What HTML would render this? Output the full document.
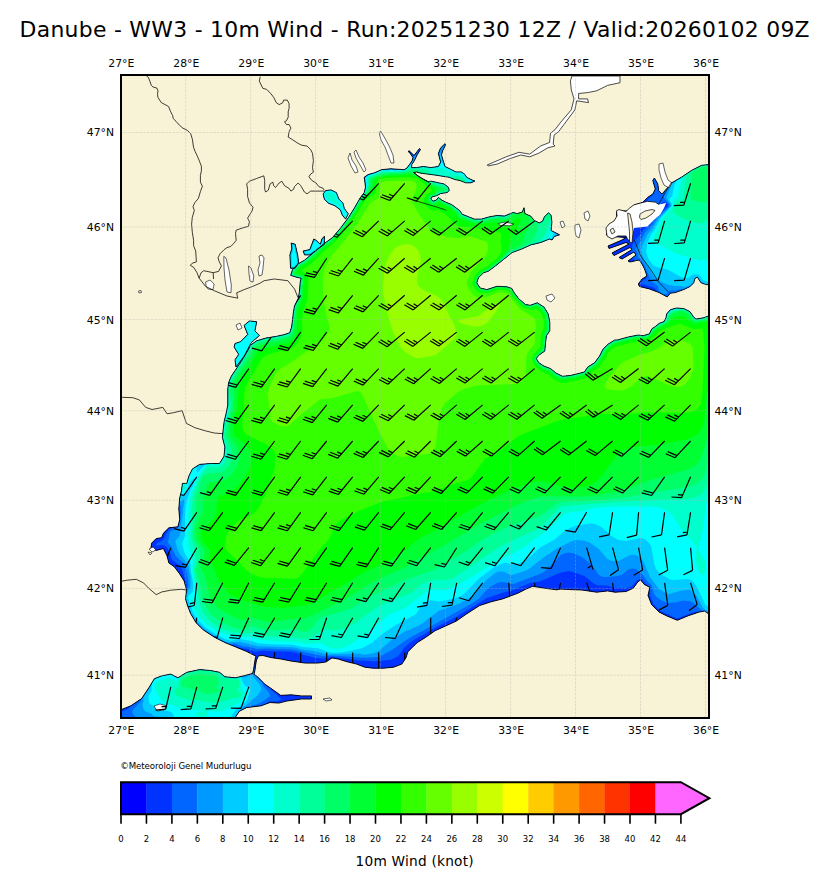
<!DOCTYPE html><html><head><meta charset="utf-8"><style>html,body{margin:0;padding:0;background:#fff;width:829px;height:888px;overflow:hidden}svg{display:block}text{font-family:'DejaVu Sans','Liberation Sans',sans-serif}</style></head><body>
<svg width="829" height="888" viewBox="0 0 829 888">
<text x="19.6" y="36.8" font-size="21.9" textLength="790" lengthAdjust="spacing" fill="#000">Danube - WW3 - 10m Wind - Run:20251230 12Z / Valid:20260102 09Z</text>
<text x="121.3" y="66.9" font-size="10.8" text-anchor="middle">27°E</text>
<text x="121.3" y="734.1" font-size="10.8" text-anchor="middle">27°E</text>
<text x="186.3" y="66.9" font-size="10.8" text-anchor="middle">28°E</text>
<text x="186.3" y="734.1" font-size="10.8" text-anchor="middle">28°E</text>
<text x="251.3" y="66.9" font-size="10.8" text-anchor="middle">29°E</text>
<text x="251.3" y="734.1" font-size="10.8" text-anchor="middle">29°E</text>
<text x="316.2" y="66.9" font-size="10.8" text-anchor="middle">30°E</text>
<text x="316.2" y="734.1" font-size="10.8" text-anchor="middle">30°E</text>
<text x="381.2" y="66.9" font-size="10.8" text-anchor="middle">31°E</text>
<text x="381.2" y="734.1" font-size="10.8" text-anchor="middle">31°E</text>
<text x="446.2" y="66.9" font-size="10.8" text-anchor="middle">32°E</text>
<text x="446.2" y="734.1" font-size="10.8" text-anchor="middle">32°E</text>
<text x="511.2" y="66.9" font-size="10.8" text-anchor="middle">33°E</text>
<text x="511.2" y="734.1" font-size="10.8" text-anchor="middle">33°E</text>
<text x="576.1" y="66.9" font-size="10.8" text-anchor="middle">34°E</text>
<text x="576.1" y="734.1" font-size="10.8" text-anchor="middle">34°E</text>
<text x="641.1" y="66.9" font-size="10.8" text-anchor="middle">35°E</text>
<text x="641.1" y="734.1" font-size="10.8" text-anchor="middle">35°E</text>
<text x="706.1" y="66.9" font-size="10.8" text-anchor="middle">36°E</text>
<text x="706.1" y="734.1" font-size="10.8" text-anchor="middle">36°E</text>
<text x="114.0" y="679.1" font-size="10.8" text-anchor="end">41°N</text>
<text x="714.5" y="679.1" font-size="10.8">41°N</text>
<text x="114.0" y="592.3" font-size="10.8" text-anchor="end">42°N</text>
<text x="714.5" y="592.3" font-size="10.8">42°N</text>
<text x="114.0" y="504.2" font-size="10.8" text-anchor="end">43°N</text>
<text x="714.5" y="504.2" font-size="10.8">43°N</text>
<text x="114.0" y="414.6" font-size="10.8" text-anchor="end">44°N</text>
<text x="714.5" y="414.6" font-size="10.8">44°N</text>
<text x="114.0" y="323.5" font-size="10.8" text-anchor="end">45°N</text>
<text x="714.5" y="323.5" font-size="10.8">45°N</text>
<text x="114.0" y="230.8" font-size="10.8" text-anchor="end">46°N</text>
<text x="714.5" y="230.8" font-size="10.8">46°N</text>
<text x="114.0" y="136.4" font-size="10.8" text-anchor="end">47°N</text>
<text x="714.5" y="136.4" font-size="10.8">47°N</text>
<defs><clipPath id="mc"><rect x="121" y="75" width="588" height="643"/></clipPath>
<clipPath id="sc"><polygon points="291.6,327.0 292.6,319.4 293.5,311.7 294.5,306.0 296.4,302.1 298.3,298.3 299.3,292.6 299.8,287.8 300.2,282.0 301.2,278.2 296.4,277.2 290.7,275.3 292.6,269.6 298.3,263.8 304.5,260.2 312.5,253.6 323.1,244.3 332.4,237.7 340.3,228.4 348.3,217.8 354.9,207.2 360.2,197.9 364.2,192.6 365.5,187.3 364.9,181.9 364.2,177.3 368.2,174.6 374.8,172.7 381.4,169.7 390.7,168.8 404.2,169.7 407.0,168.0 409.5,164.5 412.0,161.0 413.0,157.5 409.5,152.5 408.0,151.5 409.2,150.8 414.0,155.5 416.0,153.0 419.5,148.5 420.5,149.5 417.0,155.0 414.5,160.5 411.8,164.5 411.5,167.6 416.7,167.6 423.2,166.5 430.8,167.6 438.4,166.5 440.6,162.1 438.4,153.5 440.6,148.0 445.0,143.7 445.5,145.0 442.5,151.0 441.5,155.0 443.3,161.1 445.0,166.5 451.5,169.7 455.8,171.9 461.2,171.9 464.5,174.1 466.7,177.3 471.0,179.5 474.8,181.1 471.0,182.8 465.6,182.8 460.1,180.6 454.7,179.5 449.3,177.3 442.8,176.3 436.3,175.2 427.6,174.1 420.0,173.0 416.7,172.0 413.5,172.5 418.0,176.0 424.0,179.5 429.0,182.0 430.8,181.1 438.4,182.8 443.9,183.9 448.2,187.1 449.3,190.4 447.1,192.5 440.6,193.6 436.3,195.8 431.9,196.9 430.8,199.0 433.0,201.2 436.3,200.1 438.4,197.4 441.7,200.1 446.0,202.3 451.5,204.5 459.8,210.7 462.2,214.3 468.3,216.7 474.3,219.1 481.5,219.1 490.0,216.7 497.2,215.5 504.4,216.1 511.7,213.1 512.9,212.5 517.3,213.6 522.4,212.0 524.0,207.7 524.9,213.6 530.8,216.2 534.2,220.4 539.2,222.9 542.6,221.2 544.3,217.0 548.5,212.8 551.1,215.3 551.9,222.1 551.1,230.5 559.5,234.8 554.4,236.4 552.0,240.0 549.4,239.0 540.9,242.4 530.8,244.9 521.5,249.1 512.2,252.5 503.8,259.2 495.3,266.0 488.6,271.1 483.5,272.8 478.4,277.8 476.8,282.9 480.1,288.0 486.9,289.6 497.0,286.3 506.8,286.8 511.8,288.4 513.5,291.8 518.6,298.6 525.3,304.5 530.4,305.3 537.2,302.8 543.9,307.0 548.1,313.8 549.8,322.2 549.8,330.7 546.4,335.7 545.6,342.5 544.8,350.9 538.8,355.2 536.3,358.5 538.8,362.8 543.9,366.1 550.7,368.7 555.7,372.9 562.5,376.3 570.9,375.4 577.7,373.7 584.4,372.0 587.8,367.0 594.6,362.8 599.6,356.0 603.0,349.2 608.1,344.2 614.8,340.0 617.4,340.0 628.5,336.9 638.3,335.1 643.2,335.7 649.4,333.8 651.8,328.9 655.5,326.4 659.2,323.4 664.1,321.5 666.0,317.8 666.6,314.1 670.3,309.8 676.4,308.0 683.8,308.6 690.0,311.7 693.7,317.2 696.1,319.1 703.5,317.8 708.4,316.0 712.0,316.0 712.0,614.0 708.5,613.8 704.8,611.1 699.3,612.0 688.3,615.7 677.3,620.3 666.3,615.7 659.0,612.0 651.7,604.7 648.0,595.5 649.8,587.3 644.3,584.5 640.7,579.9 637.9,581.8 633.3,588.2 626.0,591.5 615.0,592.2 607.7,590.9 596.7,592.2 582.0,590.0 571.0,589.6 560.0,589.1 556.7,589.8 545.1,588.3 532.6,586.3 525.8,589.2 518.1,593.1 510.4,596.0 502.6,598.9 491.1,601.8 479.5,605.6 466.0,614.3 456.3,621.1 445.7,625.9 435.1,630.7 425.4,637.5 417.7,642.3 414.1,645.6 407.9,651.8 405.9,657.9 401.8,664.1 393.6,667.2 383.3,668.2 373.1,668.2 364.8,667.2 356.6,664.1 346.4,661.6 338.2,659.0 332.0,657.9 325.9,662.0 317.7,663.1 305.4,663.1 291.0,661.0 280.8,659.0 270.5,657.5 262.9,655.5 258.5,655.8 256.5,660.0 255.6,665.0 255.0,670.0 254.0,674.3 257.5,676.8 264.7,684.1 270.0,687.7 280.8,695.4 291.0,694.8 301.3,695.9 311.5,695.9 311.5,699.0 301.3,699.0 286.9,701.0 278.7,703.1 270.0,702.5 261.1,705.8 246.7,707.6 239.4,711.2 235.8,716.6 237.0,720.0 118.0,720.0 118.0,709.6 121.8,709.4 130.9,705.8 141.7,698.6 148.9,687.7 154.4,678.7 161.6,675.9 170.7,674.1 177.9,677.8 186.9,672.3 199.6,669.6 210.5,670.5 219.5,672.3 224.9,676.8 235.8,677.8 246.7,675.0 252.5,673.5 253.6,669.6 254.4,664.0 255.2,659.0 256.0,656.2 246.7,651.5 235.8,647.0 224.9,642.5 214.1,637.0 203.2,629.8 196.0,622.6 190.6,613.5 187.8,606.3 185.5,599.0 186.5,590.2 184.2,581.1 179.7,573.9 174.3,566.7 168.9,563.0 167.0,555.8 163.4,548.6 156.2,550.4 150.8,548.6 151.7,543.1 156.2,538.6 161.6,537.7 163.4,533.2 168.9,527.8 177.9,526.8 179.7,519.6 178.8,508.8 179.7,497.9 181.5,490.7 182.4,483.4 186.9,483.4 188.8,476.2 192.4,469.0 199.6,464.4 210.5,463.5 219.5,463.5 224.0,456.3 224.9,447.2 223.1,440.0 222.4,437.6 223.3,428.6 224.2,421.3 226.0,414.1 227.8,405.0 227.8,396.0 227.8,388.8 228.7,382.4 231.4,376.1 235.0,370.7 238.7,365.2 242.3,359.8 247.7,350.8 250.4,345.3 256.7,340.8 265.8,338.1 276.7,336.3 283.9,334.7 289.7,332.8"/><polygon points="712.0,164.3 701.7,165.3 691.6,170.4 681.5,177.2 671.3,183.1 668.0,187.3 662.0,194.0 658.7,190.7 657.8,183.9 654.4,178.0 652.8,180.5 655.3,189.0 652.8,194.0 647.7,197.4 642.6,202.5 634.2,205.0 629.1,210.9 620.7,210.9 616.4,212.6 617.3,220.2 610.5,227.8 606.3,234.6 612.0,236.5 626.0,237.5 622.0,240.0 608.0,246.0 609.0,248.5 626.0,242.5 629.0,244.0 612.0,253.0 614.0,255.5 630.0,247.5 632.0,249.5 619.0,257.5 622.0,259.0 634.0,252.0 636.0,255.0 628.0,261.0 630.0,262.0 639.2,259.9 642.0,264.0 644.3,268.4 645.7,272.3 646.9,276.0 642.0,279.1 638.3,284.0 639.5,286.5 649.4,288.9 659.2,292.6 667.2,296.9 670.3,293.2 675.2,292.6 683.8,289.5 690.0,286.5 693.7,282.8 694.9,278.5 697.4,277.2 701.1,282.8 706.0,284.6 712.0,284.6"/><polygon points="235.0,343.5 240.5,341.7 247.7,334.5 244.1,325.4 249.5,320.9 256.7,321.8 254.9,330.9 259.5,335.4 251.3,342.6 244.1,356.2 236.0,367.0 235.0,359.8 238.7,354.4 234.1,347.1"/><polygon points="291.2,243.0 295.2,244.3 297.9,256.3 298.5,262.9 295.2,268.2 290.6,268.2 289.9,254.9 291.9,248.3"/><polygon points="303.2,251.0 309.8,249.6 313.8,239.0 316.4,240.3 320.4,244.3 321.8,239.0 324.4,236.3 324.4,244.3 309.8,254.9 304.5,254.9"/><polygon points="323.1,193.9 325.7,190.6 331.0,189.9 336.3,192.6 339.0,199.2 343.0,203.2 344.3,208.5 348.3,213.8 345.6,219.1 342.3,215.1 340.3,209.8 335.0,205.8 328.4,203.2 324.4,199.2"/></clipPath></defs>
<g clip-path="url(#mc)">
<rect x="121" y="75" width="588" height="643" fill="#f8f3d6"/>
<g clip-path="url(#sc)"><rect x="118" y="72" width="596" height="650" fill="#0000ff"/>
<path fill="#0033ff" fill-rule="evenodd" d="M118.0,72.0 714.0,72.0 714.0,722.0 118.0,722.0 118.0,72.0Z"/>
<path fill="#0066ff" fill-rule="evenodd" d="M118.0,72.0 342.4,72.0 343.6,76.0 370.0,123.7 382.4,152.0 383.6,154.0 388.0,158.2 390.5,162.0 390.9,165.0 388.3,168.0 393.0,168.4 394.0,169.3 399.1,169.0 402.0,167.0 411.8,157.0 409.5,152.0 413.0,154.1 413.7,154.0 418.0,149.6 422.6,146.0 424.1,144.0 418.0,72.0 474.1,72.0 474.2,142.0 475.4,144.0 479.0,145.6 480.0,147.6 480.5,165.0 485.8,178.0 485.6,180.0 483.0,183.2 482.5,185.0 484.5,187.0 488.0,187.7 491.0,187.0 492.3,183.0 493.0,182.5 500.0,182.0 502.6,181.0 502.3,179.0 498.0,175.4 497.3,173.0 501.1,167.0 506.0,153.1 510.9,135.0 512.4,122.0 517.7,110.0 517.9,72.0 714.0,72.0 714.0,467.0 713.0,467.2 711.7,540.0 712.5,554.0 713.0,556.5 714.0,556.6 714.0,722.0 701.5,722.0 701.4,612.0 700.0,611.3 699.0,611.9 697.0,611.5 694.0,612.2 682.0,616.4 679.0,618.1 677.0,618.3 673.0,617.1 668.0,614.1 666.0,613.7 660.0,610.6 653.3,604.0 650.3,596.0 650.0,587.0 645.0,583.3 642.0,579.3 641.0,579.0 637.0,580.2 632.0,586.3 625.0,588.4 619.0,587.8 616.0,588.3 608.0,585.8 597.0,585.3 593.0,583.0 584.4,576.0 573.0,571.9 569.0,571.1 560.0,572.8 540.0,581.6 530.0,583.1 511.0,591.0 506.0,591.8 487.0,597.9 454.2,618.0 434.0,628.3 414.0,639.8 408.2,644.0 404.0,648.0 399.7,654.0 396.8,657.0 391.0,659.7 375.0,661.3 359.0,660.4 332.0,656.8 323.0,658.7 314.0,657.5 292.0,651.7 272.0,651.3 264.0,650.6 259.0,651.0 256.0,651.9 248.0,649.1 242.0,648.3 233.0,645.0 231.0,645.5 230.0,645.0 226.0,657.0 219.3,672.0 220.0,672.1 224.0,676.2 227.0,676.2 228.0,677.2 238.0,677.2 239.0,676.2 242.0,676.3 243.0,675.3 246.0,675.4 247.0,674.4 250.0,674.4 251.0,673.4 252.0,673.4 253.4,671.0 253.4,669.0 255.0,668.4 255.6,670.0 254.6,671.0 254.6,675.0 256.0,675.4 265.0,684.8 266.0,684.9 269.0,688.0 270.0,688.0 271.2,690.0 276.0,693.7 278.0,696.4 281.7,699.0 281.0,699.6 278.0,700.9 269.0,701.5 265.0,704.1 264.0,704.2 263.0,705.3 260.0,705.3 259.0,706.4 252.0,706.4 251.0,707.5 246.0,707.5 241.0,710.7 240.0,710.7 238.7,712.0 238.7,713.0 235.7,717.0 237.7,720.0 237.0,720.7 199.0,720.8 197.4,721.0 197.3,722.0 118.0,722.0 118.0,720.3 135.2,720.0 132.0,718.9 118.0,718.9 118.0,711.1 123.0,710.8 126.0,709.8 130.3,707.0 128.0,706.8 125.0,708.7 123.0,708.7 122.0,709.7 118.0,709.7 118.0,620.1 149.0,604.0 186.0,589.4 187.0,585.0 185.8,580.0 184.6,578.0 182.6,571.0 180.2,566.0 172.3,560.0 170.9,557.0 170.7,555.0 167.0,547.6 164.0,545.1 161.0,544.7 157.0,545.5 155.6,545.0 158.0,542.5 160.0,542.2 163.0,540.0 164.5,538.0 166.0,533.7 169.5,529.0 176.0,527.0 176.0,524.0 178.2,518.0 178.8,514.0 178.0,513.6 175.0,514.7 172.0,513.1 156.0,494.0 149.4,487.0 122.0,469.4 118.0,467.7 118.0,72.0ZM303.0,115.2 304.0,118.0 309.0,125.0 353.0,184.3 354.0,185.1 356.0,185.2 364.0,180.7 364.5,176.0 364.0,175.5 312.0,123.5 303.0,115.2ZM388.0,168.3 387.0,169.0 388.0,169.1 388.0,168.3ZM570.0,230.9 567.0,233.0 562.5,238.0 560.8,245.0 559.0,247.7 548.6,253.0 543.7,258.0 543.1,260.0 543.5,263.0 546.0,269.2 548.0,271.8 552.0,273.4 617.0,289.4 641.0,292.2 642.0,292.0 642.4,291.0 639.5,287.0 641.0,286.8 642.0,287.8 645.0,287.5 646.0,288.5 649.0,288.4 650.0,289.4 652.0,289.3 655.0,291.3 657.1,291.0 655.0,288.4 653.0,287.2 641.3,284.0 641.3,282.0 643.3,280.0 646.0,278.8 646.7,277.0 643.9,278.0 639.8,282.0 638.0,285.5 580.0,234.5 574.0,230.8 570.0,230.9ZM652.0,194.9 651.0,195.9 650.0,195.9 645.0,200.6 575.0,212.7 571.0,214.6 570.5,217.0 572.4,220.0 578.0,225.4 622.0,262.0 625.0,262.8 628.0,260.9 630.0,262.2 631.0,261.2 634.0,261.1 635.4,260.0 634.0,259.8 633.3,259.0 633.5,258.0 632.0,258.7 631.0,258.0 634.6,254.0 634.7,253.0 633.0,252.2 631.5,253.0 630.0,252.0 632.0,250.0 632.3,245.0 635.0,240.1 639.0,236.0 643.2,230.0 650.0,224.2 654.7,218.0 668.1,206.0 668.3,205.0 667.0,203.5 664.0,202.0 663.0,202.1 656.0,208.4 650.0,210.6 643.0,215.5 629.0,221.7 625.7,222.0 625.5,221.0 626.7,219.0 636.7,208.0 639.0,205.9 642.0,204.4 644.4,204.0 650.0,197.1 652.0,196.1 652.9,195.0 652.0,194.9ZM653.0,194.0 653.0,194.9 653.5,194.0 653.0,194.0ZM654.0,192.6 654.0,193.3 654.0,192.6ZM628.9,253.0 629.6,253.0 628.9,253.0ZM638.6,286.0 639.0,286.5 638.6,286.0Z"/>
<path fill="#0099ff" fill-rule="evenodd" d="M118.0,72.0 269.5,72.0 295.7,111.0 348.0,181.5 354.0,188.7 356.0,189.0 365.0,187.1 365.3,183.0 364.4,182.0 364.5,177.0 366.0,176.4 368.0,174.2 370.0,174.1 371.0,173.1 373.0,173.1 374.0,172.1 376.0,172.1 377.0,171.1 378.0,171.0 377.3,169.0 377.5,167.0 381.4,158.0 383.0,156.4 385.0,156.6 387.0,158.1 390.1,163.0 390.0,164.4 389.0,165.9 384.3,169.0 388.0,169.6 389.0,168.6 393.0,168.8 394.0,169.7 402.7,169.0 411.0,161.8 412.5,160.0 413.3,157.0 416.0,154.6 417.0,154.5 417.2,155.0 416.2,156.0 416.6,157.0 415.6,158.0 416.0,159.0 421.0,155.3 434.0,153.0 438.2,150.0 441.0,145.6 445.0,143.0 446.0,144.5 454.0,146.7 461.0,146.9 465.0,148.2 474.0,147.3 476.4,148.0 477.4,151.0 477.7,164.0 480.4,172.0 480.8,175.0 479.3,179.0 474.8,184.0 474.5,187.0 477.0,190.0 480.0,191.3 486.0,192.3 495.0,192.8 500.0,191.9 502.4,188.0 506.0,184.9 507.2,183.0 506.2,180.0 500.0,175.0 498.8,173.0 502.5,166.0 508.0,149.6 512.1,135.0 515.4,119.0 523.0,105.0 538.4,72.0 714.0,72.0 714.0,436.2 713.0,436.1 712.8,439.0 711.1,541.0 711.7,553.0 713.0,559.9 714.0,560.0 714.0,615.1 712.0,615.0 710.8,614.0 708.0,614.0 706.0,611.9 701.5,610.0 693.0,602.7 690.0,601.2 683.0,600.4 677.0,602.2 669.0,603.1 666.0,602.5 661.0,600.3 657.0,597.5 654.2,594.0 651.4,585.0 647.0,581.0 643.0,575.2 636.0,569.1 632.0,568.5 629.0,569.0 622.0,574.7 618.0,576.0 606.0,576.9 602.0,576.7 600.0,575.8 598.0,573.8 591.9,565.0 583.0,557.7 574.0,553.2 568.0,552.6 564.0,553.5 560.8,555.0 550.3,566.0 544.0,571.7 541.0,573.5 514.0,583.7 511.0,583.8 503.0,582.1 498.0,582.6 495.0,583.9 488.0,588.5 479.5,598.0 474.3,602.0 427.0,628.6 410.0,637.4 390.2,651.0 378.7,657.0 364.0,657.8 332.0,655.6 324.0,656.3 292.0,649.5 265.0,648.4 257.0,649.1 250.0,647.1 243.0,646.3 236.0,644.0 234.0,643.6 229.0,644.2 227.0,643.8 226.0,643.0 224.0,643.0 221.0,641.0 220.0,641.0 218.0,639.0 213.0,637.0 211.0,635.0 210.2,635.0 209.5,636.0 209.0,638.0 207.0,638.0 204.0,634.0 206.0,633.7 206.0,632.0 201.9,629.0 201.0,631.0 200.0,631.0 199.0,632.0 198.0,632.0 197.0,633.0 196.0,633.0 195.0,634.0 194.0,634.0 193.0,635.0 192.0,635.0 191.0,636.0 190.0,636.0 189.0,637.0 188.0,637.0 187.0,638.0 186.0,638.0 185.0,639.0 184.0,639.0 183.0,640.0 182.0,640.0 181.0,641.0 180.0,641.0 179.0,642.0 178.0,642.0 177.0,643.0 176.0,643.0 175.0,644.0 174.0,644.0 173.0,645.0 172.0,645.0 171.0,646.0 170.0,646.0 169.0,647.0 168.0,647.0 167.0,648.0 166.0,648.0 165.0,649.0 164.0,649.0 163.0,650.0 162.0,650.0 161.0,651.0 160.0,651.0 159.0,652.0 158.0,652.0 157.0,653.0 156.0,653.0 155.0,654.0 154.0,654.0 153.0,655.0 152.0,655.0 151.0,656.0 150.0,656.0 149.0,657.0 148.0,657.0 147.0,658.0 146.0,658.0 145.0,659.0 144.0,659.0 143.0,660.0 142.0,660.0 141.0,661.0 140.0,661.0 139.0,662.0 138.0,662.0 127.0,668.0 118.0,668.0 118.0,622.2 120.0,621.7 149.5,606.0 186.0,591.9 188.1,588.0 188.4,585.0 188.0,579.0 185.9,568.0 183.0,562.9 175.8,556.0 170.9,546.0 167.5,542.0 168.5,540.0 169.8,533.0 170.8,531.0 176.0,529.3 179.0,526.8 179.1,523.0 179.9,522.0 180.9,512.0 180.5,509.0 181.0,505.5 179.0,505.8 179.4,507.0 178.0,508.0 176.0,512.2 175.0,512.9 173.0,512.5 151.0,487.1 122.0,468.4 118.0,466.8 118.0,72.0ZM654.0,178.5 652.5,181.0 653.5,182.0 653.5,184.0 654.5,185.0 654.4,187.0 655.4,188.0 655.4,189.0 654.4,190.0 653.3,193.0 646.0,198.8 580.0,210.2 575.0,211.4 571.0,213.2 569.3,215.0 569.3,217.0 573.0,224.3 568.0,226.8 558.5,236.0 557.5,242.0 555.7,245.0 545.0,251.5 534.9,255.0 530.5,258.0 529.4,261.0 531.4,266.0 534.0,268.8 540.0,273.3 545.0,280.5 548.0,282.2 629.0,302.4 660.0,306.7 665.0,306.4 665.1,305.0 662.8,302.0 649.9,290.0 652.0,289.8 655.0,291.8 657.0,291.5 660.0,293.1 661.6,293.0 659.0,290.9 658.1,286.0 651.0,281.0 645.4,267.0 640.5,259.0 637.9,257.0 638.0,254.0 635.5,249.0 641.0,240.5 645.4,232.0 651.0,226.9 657.0,218.0 669.7,206.0 669.5,204.0 664.6,199.0 663.6,197.0 665.5,191.0 665.0,190.8 663.0,192.5 662.0,194.4 661.7,194.0 661.6,193.0 658.6,190.0 658.5,186.0 657.5,185.0 657.5,183.0 656.5,182.0 656.5,181.0 654.0,178.5ZM677.0,289.9 675.0,290.5 671.0,290.3 669.0,291.3 666.5,294.0 664.0,294.0 663.9,295.0 667.0,296.2 670.0,293.2 671.0,293.2 672.0,292.2 676.0,292.2 677.0,291.2 679.0,291.2 680.0,290.2 682.0,290.2 682.0,289.0 677.0,289.9ZM662.0,293.4 662.0,294.1 663.9,294.0 662.0,293.4ZM634.8,255.0 636.0,254.4 636.7,255.0 636.0,255.6 634.8,255.0ZM638.2,260.0 639.0,259.2 639.8,260.0 639.8,261.0 642.9,264.0 642.8,265.0 644.8,268.0 644.8,270.0 645.8,271.0 645.7,273.0 646.7,274.0 646.7,276.0 640.0,281.1 625.8,269.0 623.0,266.0 623.1,265.0 628.0,262.0 629.0,261.7 630.0,262.5 631.0,261.5 634.0,261.4 635.0,260.3 638.2,260.0ZM253.8,669.0 255.1,669.0 255.1,670.0 254.2,671.0 254.2,675.0 255.0,675.9 256.0,675.9 261.9,682.0 264.0,687.1 268.6,692.0 270.2,696.0 261.0,702.4 259.0,703.1 258.0,704.3 252.0,705.2 250.0,706.5 246.0,707.0 241.0,710.3 240.0,710.3 235.4,717.0 237.4,720.0 237.0,720.4 154.0,721.0 153.2,720.0 150.0,719.1 138.0,718.8 136.0,717.5 132.1,713.0 132.9,710.0 141.0,701.0 141.6,700.0 141.0,699.0 142.0,698.0 142.0,697.0 148.0,689.0 148.0,688.0 151.0,684.0 152.0,681.0 155.0,678.0 156.0,678.0 159.0,676.0 161.0,676.0 162.0,675.0 166.0,675.0 167.0,674.0 172.0,674.0 177.0,677.0 179.0,677.0 181.0,675.0 182.0,675.0 186.0,672.0 188.0,672.0 189.0,671.0 193.0,671.0 194.0,670.0 197.0,670.0 198.0,669.0 204.0,669.0 205.0,670.0 213.0,670.0 214.0,671.0 218.0,671.1 219.0,672.2 220.0,672.3 224.0,676.3 227.0,676.3 228.0,677.3 238.0,677.4 239.0,676.4 242.0,676.6 243.0,675.7 246.0,675.8 247.0,674.8 250.0,674.8 251.0,673.8 252.0,673.8 253.8,671.0 253.8,669.0Z"/>
<path fill="#00ccff" fill-rule="evenodd" d="M118.0,72.0 266.3,72.0 267.8,75.0 283.5,97.0 350.1,187.0 353.6,193.0 363.0,192.8 364.0,192.1 364.2,190.0 365.3,189.0 365.7,183.0 364.8,182.0 364.9,177.0 366.0,176.9 368.0,174.6 370.0,174.6 371.0,173.6 373.0,173.6 374.0,172.6 376.0,172.6 379.0,170.4 380.0,170.3 381.0,169.1 388.0,170.1 389.0,169.4 392.0,169.3 394.0,170.1 405.0,169.1 413.0,161.2 413.0,163.5 418.0,162.4 424.0,159.9 434.0,159.2 439.0,159.6 440.0,156.0 440.0,152.7 440.5,153.0 440.4,155.0 442.3,157.0 442.9,160.0 447.0,161.8 451.0,162.4 452.7,161.0 453.9,157.0 455.0,156.2 462.0,156.4 467.9,152.0 472.0,150.8 473.7,152.0 474.2,163.0 476.9,170.0 477.3,173.0 476.0,176.5 472.2,179.0 473.0,180.2 474.5,181.0 472.0,182.6 469.2,183.0 471.0,188.0 475.0,193.2 479.0,195.5 497.0,196.9 502.0,196.3 504.5,195.0 510.0,184.6 510.0,183.0 508.3,180.0 500.8,173.0 503.4,167.0 507.2,155.0 517.6,118.0 524.4,106.0 533.1,93.0 543.1,72.0 572.5,72.0 572.3,209.0 567.9,215.0 568.0,221.0 561.0,228.3 555.0,231.9 556.0,233.6 557.1,234.0 557.0,235.0 553.7,237.0 552.0,242.0 550.0,244.6 544.0,248.5 528.2,253.0 520.7,256.0 517.6,259.0 517.7,262.0 520.4,267.0 528.0,277.8 538.0,285.3 543.0,290.2 545.0,291.3 648.0,316.7 665.0,319.0 665.0,318.0 666.1,317.0 666.2,314.0 671.0,309.3 673.0,309.3 674.0,308.2 676.1,308.0 661.1,295.0 663.0,294.8 664.0,295.8 667.0,296.7 670.0,293.6 671.0,293.6 672.0,292.6 676.0,292.6 677.0,291.6 679.0,291.6 680.0,290.6 682.0,290.6 687.0,287.2 690.2,286.0 690.0,285.2 685.0,287.1 682.0,286.2 674.0,286.0 668.8,285.0 663.0,282.8 655.3,278.0 652.9,275.0 644.0,259.5 642.2,255.0 641.1,250.0 642.5,245.0 647.7,234.0 653.0,228.2 658.0,219.0 670.8,206.0 670.7,204.0 666.4,198.0 670.4,187.0 670.4,185.0 671.6,183.0 673.0,182.6 675.0,180.4 680.0,178.2 682.0,176.2 683.0,176.2 685.0,174.1 686.0,174.1 691.0,170.1 692.0,170.1 701.0,165.1 704.0,165.1 705.0,164.1 711.0,164.1 712.0,164.5 714.0,163.2 714.0,405.2 713.0,405.1 712.9,407.0 712.0,472.0 710.6,501.0 710.1,542.0 710.7,553.0 713.0,567.0 714.0,567.8 714.0,598.0 713.0,597.8 712.8,606.0 711.0,612.0 709.0,611.9 703.0,608.0 696.5,596.0 693.0,592.2 690.0,590.1 688.0,589.8 682.0,590.4 669.0,593.9 665.7,593.0 660.0,589.5 657.4,587.0 650.0,577.0 643.5,562.0 640.0,557.7 637.0,555.5 634.0,554.8 630.0,555.0 619.0,560.7 616.0,561.3 612.0,560.9 607.0,558.7 599.0,549.2 590.0,542.7 585.0,540.8 576.0,540.1 571.0,541.4 557.0,548.4 544.2,557.0 529.0,569.0 526.0,570.6 512.0,575.1 510.0,574.7 504.0,571.5 499.0,571.4 496.0,572.5 485.2,581.0 475.2,594.0 471.8,597.0 459.0,603.8 438.6,611.0 420.0,624.9 405.0,631.4 392.0,639.5 378.6,651.0 374.0,653.0 365.0,654.7 359.0,653.5 328.0,654.5 314.0,650.9 302.0,649.4 293.0,647.3 258.0,646.2 240.0,642.0 228.0,642.3 225.0,641.6 220.0,639.1 204.0,629.1 194.1,619.0 193.0,616.0 191.0,614.0 191.0,612.0 189.0,609.0 188.0,604.0 187.0,603.0 187.0,601.0 186.0,600.0 186.0,595.0 187.1,594.0 188.0,591.1 190.5,588.0 190.6,578.0 188.0,565.1 185.0,560.2 179.6,554.0 177.4,549.0 175.2,541.0 179.4,536.0 181.5,529.0 181.4,524.0 183.1,512.0 183.0,509.0 184.5,501.0 184.1,499.0 179.0,502.5 175.0,510.7 174.0,511.2 173.0,510.8 152.0,486.7 123.0,467.9 118.0,465.8 118.0,72.0ZM208.0,451.5 203.0,457.8 199.5,464.0 200.0,464.8 201.0,465.3 203.8,464.0 208.0,451.5ZM691.0,284.4 690.2,285.0 691.0,285.2 691.0,284.4ZM692.0,283.5 691.4,284.0 692.0,284.1 692.0,283.5ZM693.0,281.8 692.6,283.0 693.0,283.1 693.0,281.8ZM440.8,152.0 441.0,151.2 440.8,152.0ZM383.9,159.0 385.0,158.3 387.0,159.4 388.7,162.0 389.0,164.0 388.0,165.3 385.0,167.2 381.0,168.2 380.7,166.0 383.9,159.0ZM638.6,260.0 639.0,259.6 639.4,260.0 639.4,261.0 642.4,264.0 642.4,265.0 644.4,268.0 644.4,270.0 645.4,271.0 645.4,273.0 646.4,274.0 646.3,276.0 645.0,277.3 644.0,277.2 642.0,278.6 628.5,267.0 627.4,265.0 629.0,262.6 630.0,262.8 631.0,261.8 634.0,261.7 635.0,260.7 638.0,260.6 638.6,260.0ZM659.9,294.0 661.0,293.8 661.0,294.9 659.9,294.0ZM197.2,670.0 198.0,669.2 204.0,669.2 205.0,670.2 213.0,670.2 214.0,671.2 218.0,671.3 219.0,672.4 220.0,672.5 224.0,676.5 227.0,676.5 228.0,677.5 238.0,677.5 239.0,676.6 243.0,677.4 246.0,677.1 252.0,675.2 260.0,685.1 261.0,687.7 261.0,690.0 258.7,694.0 255.9,697.0 251.0,700.8 249.0,703.2 243.0,706.9 238.0,712.0 238.0,713.0 235.0,717.0 237.0,720.0 176.0,720.3 174.1,720.0 170.0,717.0 154.0,716.5 151.0,713.5 146.0,711.7 144.0,710.2 142.4,705.0 143.4,702.0 143.4,697.0 144.9,695.0 144.9,694.0 146.9,692.0 146.9,691.0 148.9,689.0 149.8,686.0 151.5,684.0 152.5,681.0 155.0,678.5 158.0,677.5 159.0,676.5 161.0,676.5 162.0,675.5 166.0,675.5 167.0,674.5 172.0,674.5 177.0,677.4 179.0,677.3 181.0,675.2 184.0,674.2 186.0,672.2 197.2,670.0Z"/>
<path fill="#00ffff" fill-rule="evenodd" d="M544.2,72.0 568.1,72.0 567.8,211.0 565.4,218.0 564.0,220.0 560.0,223.6 555.0,225.4 552.4,228.0 551.8,230.0 553.8,234.0 551.8,238.0 550.7,239.0 547.4,240.0 546.6,242.0 544.7,244.0 540.1,246.0 527.0,249.8 514.0,251.9 513.0,252.8 512.0,252.8 509.0,255.8 508.0,255.8 504.0,260.0 524.0,288.7 538.0,299.0 551.0,312.0 551.0,312.8 552.0,313.0 552.0,316.0 553.0,317.0 553.0,322.0 554.0,322.0 555.0,321.0 556.0,322.0 555.0,323.0 556.0,324.0 559.0,325.0 560.0,326.0 560.0,327.0 561.0,327.0 567.0,332.0 570.0,332.0 572.0,334.0 571.0,335.0 572.0,335.0 577.0,339.0 578.0,338.0 579.0,339.0 578.0,340.0 579.0,340.0 582.0,343.0 583.0,343.0 584.0,342.0 585.0,343.0 584.0,344.0 586.0,346.0 587.0,345.0 588.0,346.0 588.0,347.0 589.0,347.0 593.0,351.0 594.0,351.0 595.0,350.0 596.0,351.0 595.0,352.0 599.0,355.0 600.0,355.0 603.0,348.0 604.0,347.0 605.0,347.0 604.0,346.0 605.0,345.0 606.0,346.0 612.0,341.0 613.0,341.0 614.0,340.0 617.0,340.0 618.0,339.0 620.0,339.0 619.0,339.0 618.0,338.0 619.0,337.0 620.0,337.0 621.0,338.0 622.0,337.0 623.0,338.0 624.0,338.0 625.0,337.0 628.0,337.0 629.0,336.0 631.0,336.0 633.0,334.0 640.0,333.9 649.0,332.8 650.0,332.0 650.0,331.0 652.0,328.0 653.0,328.0 659.0,323.3 664.4,321.0 664.4,320.0 666.5,317.0 666.6,314.0 671.0,309.8 673.0,309.7 674.0,308.6 684.0,308.2 685.0,309.2 690.0,311.2 690.8,312.0 690.8,313.0 692.8,315.0 692.8,316.0 696.0,319.2 697.0,318.2 702.0,318.2 703.0,317.2 705.0,317.2 706.0,316.2 712.0,316.2 712.8,317.0 712.8,348.0 713.0,352.2 714.0,352.5 714.0,371.5 713.0,370.6 713.0,400.0 711.4,470.0 709.3,502.0 708.3,542.0 708.6,550.0 711.0,563.0 711.3,568.0 710.9,597.0 710.0,604.3 709.0,605.5 707.0,606.0 705.0,604.1 696.9,587.0 694.0,582.9 691.0,580.0 688.0,579.1 673.0,579.9 670.0,579.6 662.0,574.8 658.0,571.6 656.0,568.8 654.5,565.0 651.0,546.0 649.0,542.9 645.0,539.3 643.0,538.4 640.0,538.1 626.0,540.9 618.0,539.8 611.0,535.8 604.0,529.0 601.0,526.8 595.0,524.1 590.0,523.5 575.0,526.1 566.0,529.8 555.0,539.3 540.0,547.4 531.0,556.1 522.7,562.0 514.0,564.7 507.0,563.1 504.0,563.1 494.4,567.0 479.6,578.0 465.0,593.0 461.0,596.1 452.0,599.0 444.0,600.8 438.0,601.5 431.0,600.2 426.0,601.7 421.0,605.8 417.0,612.8 415.0,614.7 395.0,625.5 385.1,632.0 372.0,642.8 362.0,648.3 344.3,652.0 336.0,652.8 329.0,652.3 318.0,648.3 303.0,647.0 293.0,644.7 273.0,644.3 258.0,643.2 250.0,640.8 240.0,639.0 237.0,639.0 231.0,640.7 225.0,639.1 214.0,633.2 205.0,627.2 196.1,618.0 193.1,613.0 187.9,598.0 188.2,596.0 192.6,592.0 193.3,588.0 193.0,582.0 190.8,571.0 190.4,563.0 184.2,552.0 182.1,544.0 184.9,536.0 185.4,529.0 184.9,518.0 185.5,509.0 186.8,501.0 189.8,491.0 193.2,485.0 194.5,479.0 194.0,478.3 193.0,479.1 189.0,484.0 187.6,490.0 181.0,496.6 180.0,494.2 175.0,496.8 168.0,495.7 162.0,492.6 150.0,483.4 125.0,467.4 121.0,465.2 118.0,464.3 118.0,423.2 157.0,423.0 155.4,421.0 150.8,418.0 118.0,399.2 118.0,326.4 237.0,326.4 245.0,327.2 245.1,325.0 250.0,321.1 251.0,322.0 255.0,322.0 256.0,323.0 255.9,325.0 255.0,326.0 255.0,331.1 256.0,330.4 263.0,330.3 272.0,326.9 279.0,329.7 290.0,330.5 290.1,329.0 291.1,328.0 291.2,324.0 292.2,323.0 292.2,316.0 293.2,315.0 293.2,309.0 294.2,308.0 294.2,305.0 298.2,298.0 298.2,295.0 299.2,294.0 299.1,285.0 300.1,284.0 300.1,278.0 296.0,277.9 295.0,276.9 293.0,276.9 292.0,275.9 291.0,275.9 290.1,275.0 291.1,274.0 291.1,272.0 292.1,271.0 292.1,270.0 294.0,268.1 295.1,268.0 295.1,267.0 300.0,262.1 303.0,261.1 315.1,251.0 315.0,250.1 313.1,251.0 310.0,253.6 306.0,253.6 304.4,252.0 311.0,249.9 312.4,245.0 315.0,240.9 320.0,244.4 322.0,242.9 323.0,238.9 323.6,240.0 323.1,244.0 324.1,244.0 324.6,242.0 324.7,237.0 324.0,236.2 321.1,239.0 321.1,242.0 320.0,243.0 319.6,241.0 329.0,217.0 330.3,207.0 330.0,204.4 324.0,199.0 324.0,198.0 323.0,197.0 323.0,193.0 326.0,190.0 330.0,190.0 331.0,189.0 332.0,190.0 335.0,191.0 337.0,193.0 337.0,194.0 339.0,197.0 339.0,199.0 340.0,200.0 345.0,200.7 359.0,199.1 360.1,198.0 360.1,197.0 363.4,194.0 363.4,193.0 364.5,192.0 364.7,190.0 365.7,189.0 366.3,183.0 365.5,181.0 365.6,178.0 368.0,175.4 370.0,175.0 371.0,174.0 373.0,174.0 374.0,173.1 376.0,173.1 379.0,170.9 380.0,170.9 381.0,169.7 388.0,170.7 390.0,169.9 394.0,170.6 405.0,169.7 411.0,164.9 412.0,166.5 415.0,165.6 421.0,165.7 428.0,164.8 431.0,165.1 434.0,166.4 438.0,166.3 439.8,165.0 442.0,161.9 445.0,166.7 450.0,168.7 455.0,171.6 461.0,171.7 463.0,173.6 464.0,173.5 467.0,177.7 470.0,178.9 472.5,181.0 466.7,183.0 468.9,190.0 468.7,192.0 467.0,192.5 459.0,191.4 453.9,193.0 450.9,195.0 448.6,198.0 447.0,202.0 448.0,203.0 450.0,203.1 451.0,204.1 452.0,204.2 455.0,207.3 456.0,207.3 459.0,210.3 460.0,210.3 462.0,214.3 463.0,214.3 464.0,215.3 466.0,215.2 467.0,216.2 469.0,216.2 472.0,218.2 474.0,218.2 475.0,219.2 481.0,219.2 482.0,218.2 485.0,218.3 486.0,217.3 488.0,217.3 489.0,216.3 494.0,216.4 495.0,215.4 503.0,215.4 504.0,216.4 505.0,215.3 507.0,215.1 507.8,214.0 504.4,201.0 508.1,196.0 512.6,185.0 511.5,182.0 505.9,175.0 504.7,172.0 508.0,155.9 519.3,117.0 523.6,109.0 534.4,93.0 544.2,72.0ZM226.0,409.7 212.9,433.0 205.3,450.0 201.3,456.0 196.0,466.0 197.0,472.4 198.0,472.3 201.0,468.4 206.9,463.0 213.0,448.6 220.8,433.0 223.0,427.8 223.4,423.0 224.3,422.0 224.4,419.0 225.3,418.0 225.4,415.0 226.3,414.0 226.0,409.7ZM227.0,408.0 226.4,409.0 227.1,409.0 227.0,408.0ZM235.0,344.0 235.0,348.0 235.0,345.0 236.1,344.0 235.0,344.0ZM237.0,343.0 239.1,343.0 237.0,343.0ZM240.0,342.0 241.1,342.0 240.0,342.0ZM246.0,327.9 246.0,330.0 246.0,327.9ZM247.0,330.9 247.0,332.0 247.0,330.9ZM248.0,332.9 248.0,335.1 248.0,332.9ZM250.0,343.9 250.0,345.0 250.0,343.9ZM251.0,341.9 251.0,343.0 251.0,341.9ZM252.0,341.0 253.0,341.0 252.0,341.0ZM316.0,249.1 315.1,250.0 316.0,250.1 316.0,249.1ZM317.0,248.1 316.1,249.0 317.0,249.1 317.0,248.1ZM318.0,247.6 317.1,248.0 319.1,248.0 319.0,247.1 318.0,247.6ZM320.0,246.1 319.1,247.0 320.0,247.1 320.0,246.1ZM321.0,245.6 320.1,246.0 322.1,246.0 322.0,245.1 321.0,245.6ZM323.0,244.1 322.1,245.0 323.0,245.1 323.0,244.1ZM444.0,181.9 440.0,183.0 444.0,183.1 447.0,186.1 448.0,186.0 447.0,183.0 446.0,182.1 444.0,181.9ZM236.0,348.9 236.0,350.0 236.0,348.9ZM238.0,351.9 238.0,353.0 238.0,351.9ZM239.0,353.9 239.0,355.1 239.0,353.9ZM241.0,358.9 241.0,360.0 241.0,358.9ZM244.0,354.9 244.0,356.0 244.0,354.9ZM245.0,352.9 245.0,354.0 245.0,352.9ZM248.0,346.9 248.0,348.0 248.0,346.9ZM445.0,192.9 444.0,193.9 440.0,193.8 439.0,194.9 438.0,195.0 438.0,195.7 440.0,196.7 442.0,196.5 445.6,194.0 446.4,193.0 445.0,192.9ZM236.0,359.0 236.0,367.0 236.0,366.0 237.0,365.0 236.1,364.0 236.0,359.0ZM237.0,357.0 237.0,358.1 237.0,357.0ZM246.0,350.9 246.0,352.0 246.0,350.9ZM247.0,348.9 247.0,350.0 247.0,348.9ZM238.0,362.9 238.0,364.0 238.0,362.9ZM384.8,162.0 386.0,161.0 387.3,163.0 387.0,164.0 385.0,165.1 384.0,164.0 384.8,162.0ZM465.7,165.0 468.0,164.6 471.0,166.9 472.1,170.0 471.0,172.1 469.0,172.4 466.8,171.0 465.4,168.0 465.7,165.0ZM704.4,165.0 705.0,164.4 711.0,164.3 711.7,165.0 711.4,258.0 711.2,260.0 709.3,263.0 708.7,265.0 708.7,281.0 708.0,281.7 703.0,280.3 700.3,276.0 698.0,274.3 694.0,274.2 690.4,276.0 688.0,278.0 685.0,278.5 680.0,276.5 668.0,269.8 655.0,266.6 652.0,264.0 648.0,258.3 646.2,252.0 647.0,244.0 650.7,235.0 654.5,230.0 660.7,218.0 671.8,206.0 671.8,204.0 669.9,201.0 669.4,199.0 672.1,196.0 674.0,186.2 676.9,180.0 680.0,178.7 682.0,176.5 683.0,176.5 685.0,174.4 686.0,174.4 691.0,170.4 692.0,170.4 701.0,165.4 704.4,165.0ZM292.9,245.0 294.0,245.7 295.1,249.0 295.1,252.0 296.1,254.0 296.1,257.0 297.1,259.0 297.1,262.0 294.0,267.1 291.9,267.0 291.6,255.0 292.9,251.0 292.9,245.0ZM556.0,318.0 557.0,317.0 558.0,318.0 557.0,319.0 556.0,318.0ZM565.0,318.0 566.0,317.0 567.0,318.0 566.0,319.0 565.0,318.0ZM557.0,322.0 558.0,321.0 559.0,322.0 558.0,323.0 557.0,322.0ZM560.0,322.0 561.0,321.0 562.0,322.0 561.0,323.0 560.0,322.0ZM567.0,322.0 568.0,321.0 569.0,322.0 568.0,323.0 567.0,322.0ZM569.0,322.0 570.0,321.0 571.0,322.0 570.0,323.0 569.0,322.0ZM576.0,322.0 577.0,321.0 578.0,321.0 579.0,322.0 578.0,323.0 577.0,323.0 576.0,322.0ZM585.0,322.0 587.0,322.0 586.0,323.0 585.0,322.0ZM580.0,324.0 581.0,323.0 582.0,324.0 581.0,325.0 580.0,324.0ZM584.0,324.0 585.0,323.0 586.0,324.0 585.0,325.0 584.0,324.0ZM589.0,324.0 590.0,323.0 591.0,324.0 590.0,325.0 589.0,324.0ZM593.0,324.0 595.0,324.0 594.0,325.0 593.0,324.0ZM560.0,326.0 561.0,325.0 562.0,326.0 561.0,327.0 560.0,326.0ZM570.0,326.0 571.0,325.0 573.0,327.0 572.0,328.0 570.0,326.0ZM579.0,326.0 580.0,325.0 582.0,327.0 581.0,328.0 579.0,326.0ZM587.0,326.0 588.0,325.0 589.0,325.0 591.0,327.0 590.0,328.0 587.0,326.0ZM596.0,326.0 597.0,325.0 598.0,325.0 599.0,326.0 598.0,327.0 597.0,327.0 596.0,326.0ZM562.0,327.0 563.0,326.0 564.0,327.0 563.0,328.0 562.0,327.0ZM575.0,327.0 576.0,326.0 577.0,327.0 576.0,328.0 575.0,327.0ZM584.0,327.0 585.0,326.0 586.0,327.0 585.0,328.0 584.0,327.0ZM593.0,327.0 594.0,326.0 595.0,327.0 594.0,328.0 593.0,327.0ZM586.0,328.0 587.0,327.0 588.0,328.0 587.0,329.0 586.0,328.0ZM570.0,329.0 571.0,328.0 572.0,329.0 570.0,331.0 569.0,330.0 570.0,329.0ZM607.0,329.0 608.0,328.0 609.0,328.0 610.0,329.0 609.0,330.0 608.0,330.0 607.0,329.0ZM567.0,330.0 568.0,329.0 569.0,330.0 568.0,331.0 567.0,330.0ZM572.0,330.0 573.0,329.0 574.0,330.0 573.0,331.0 572.0,330.0ZM575.0,330.0 576.0,329.0 577.0,330.0 576.0,331.0 575.0,330.0ZM591.0,330.0 592.0,329.0 593.0,330.0 592.0,331.0 591.0,330.0ZM578.0,331.0 579.0,330.0 580.0,331.0 579.0,332.0 578.0,331.0ZM572.0,333.0 573.0,332.0 575.0,334.0 574.0,335.0 572.0,333.0ZM575.0,333.0 576.0,332.0 577.0,333.0 578.0,332.0 579.0,332.0 581.0,334.0 580.0,335.0 579.0,334.0 578.0,334.0 577.0,335.0 575.0,333.0ZM586.0,333.0 587.0,332.0 588.0,332.0 589.0,333.0 588.0,334.0 587.0,334.0 586.0,333.0ZM594.0,333.0 595.0,332.0 597.0,332.0 598.0,333.0 597.0,334.0 595.0,334.0 594.0,333.0ZM604.0,333.0 605.0,332.0 606.0,333.0 605.0,334.0 604.0,333.0ZM609.0,333.0 610.0,332.0 611.0,333.0 610.0,334.0 609.0,333.0ZM613.0,333.0 614.0,332.0 615.0,332.0 616.0,333.0 615.0,334.0 614.0,334.0 613.0,333.0ZM618.0,333.0 619.0,332.0 620.0,333.0 619.0,334.0 618.0,333.0ZM623.0,333.0 624.0,332.0 625.0,333.0 624.0,334.0 623.0,333.0ZM627.0,333.0 628.0,332.0 629.0,333.0 627.0,335.0 626.0,334.0 627.0,333.0ZM582.0,334.0 583.0,333.0 584.0,334.0 583.0,335.0 582.0,334.0ZM628.0,335.0 629.0,334.0 630.0,335.0 629.0,336.0 628.0,335.0ZM577.0,336.0 578.0,335.0 579.0,336.0 578.0,337.0 577.0,336.0ZM586.0,336.0 587.0,335.0 588.0,336.0 587.0,337.0 586.0,336.0ZM623.0,336.0 624.0,335.0 625.0,336.0 624.0,337.0 623.0,336.0ZM579.0,338.0 580.0,337.0 581.0,338.0 582.0,337.0 583.0,338.0 581.0,340.0 579.0,338.0ZM588.0,338.0 589.0,337.0 591.0,339.0 590.0,340.0 588.0,338.0ZM593.0,338.0 594.0,337.0 595.0,338.0 594.0,339.0 593.0,338.0ZM609.0,338.0 610.0,337.0 611.0,338.0 610.0,339.0 609.0,338.0ZM612.0,338.0 613.0,337.0 614.0,338.0 613.0,339.0 612.0,338.0ZM615.0,338.0 616.0,337.0 617.0,338.0 616.0,339.0 615.0,338.0ZM583.0,339.0 584.0,338.0 585.0,339.0 584.0,340.0 583.0,339.0ZM586.0,339.0 587.0,338.0 588.0,339.0 587.0,340.0 586.0,339.0ZM586.0,342.0 587.0,341.0 588.0,342.0 588.0,343.0 587.0,344.0 586.0,343.0 586.0,342.0ZM595.0,342.0 596.0,341.0 597.0,342.0 597.0,343.0 596.0,344.0 595.0,343.0 595.0,342.0ZM588.0,343.0 589.0,342.0 590.0,342.0 591.0,343.0 590.0,344.0 589.0,344.0 588.0,343.0ZM592.0,343.0 593.0,342.0 594.0,343.0 593.0,344.0 592.0,343.0ZM597.0,343.0 598.0,342.0 599.0,342.0 600.0,343.0 599.0,344.0 598.0,344.0 597.0,343.0ZM606.0,343.0 607.0,342.0 608.0,343.0 607.0,344.0 606.0,343.0ZM595.0,346.0 596.0,345.0 597.0,346.0 596.0,347.0 595.0,346.0ZM591.0,347.0 592.0,346.0 593.0,347.0 593.0,348.0 592.0,349.0 591.0,348.0 591.0,347.0ZM594.0,348.0 595.0,347.0 596.0,348.0 595.0,349.0 594.0,348.0ZM596.0,348.0 597.0,347.0 598.0,347.0 599.0,348.0 598.0,349.0 597.0,349.0 596.0,348.0ZM600.0,348.0 601.0,347.0 602.0,348.0 601.0,349.0 600.0,348.0ZM596.0,351.0 597.0,350.0 598.0,351.0 597.0,352.0 596.0,351.0ZM179.4,497.0 180.0,496.5 180.9,497.0 180.0,498.0 179.4,497.0ZM197.5,670.0 198.0,669.5 204.0,669.5 205.0,670.5 213.0,670.5 214.0,671.5 218.0,671.6 219.0,672.6 220.0,672.7 224.0,676.7 227.0,676.7 228.0,677.7 238.0,677.7 239.0,676.8 240.6,677.0 243.0,683.2 245.0,686.0 249.3,688.0 250.0,689.0 250.0,691.0 247.0,700.2 245.5,702.0 237.5,708.0 233.4,713.0 231.0,717.0 226.0,718.8 210.0,718.9 204.1,720.0 198.6,720.0 193.0,718.9 177.0,718.9 174.9,718.0 172.2,713.0 171.0,712.1 160.0,709.0 152.0,705.3 149.2,703.0 148.4,696.0 151.4,691.0 152.1,683.0 153.0,682.0 153.0,681.0 155.0,679.0 158.0,678.0 159.0,677.0 161.0,677.0 162.0,676.0 166.0,676.0 167.0,675.0 172.0,675.0 177.0,677.8 179.0,677.6 181.0,675.5 184.0,674.5 186.0,672.5 188.0,672.5 189.0,671.5 193.0,671.5 194.0,670.5 197.0,670.5 197.5,670.0Z"/>
<path fill="#00ffcc" fill-rule="evenodd" d="M545.0,73.0 545.1,72.0 565.2,72.0 565.2,207.0 564.8,212.0 563.0,215.5 560.0,218.2 558.0,219.1 554.0,219.6 552.0,220.9 550.1,230.0 550.0,235.0 544.0,241.1 539.0,242.6 538.0,243.6 531.0,245.0 519.0,250.5 517.0,250.5 516.0,251.4 514.0,251.4 513.0,252.3 512.0,252.3 509.0,255.3 508.0,255.3 504.0,259.5 503.0,259.6 499.0,263.7 498.0,263.7 495.0,266.8 494.0,266.8 490.0,270.8 484.0,272.8 478.8,278.0 478.8,279.0 477.8,280.0 477.8,282.0 476.8,283.0 481.0,288.2 484.0,288.2 485.0,289.1 488.0,289.1 489.0,288.1 491.0,288.1 492.0,287.1 494.0,287.1 495.0,286.1 507.0,286.1 508.0,287.1 510.0,287.1 512.9,289.0 513.9,292.0 515.9,294.0 516.0,295.0 525.0,304.1 528.0,304.2 529.0,305.2 531.0,305.2 532.0,304.3 533.0,304.3 534.0,303.3 536.0,303.4 537.0,302.4 541.0,305.4 542.0,305.4 545.6,309.0 546.6,312.0 548.6,314.0 548.6,318.0 549.6,319.0 549.6,331.0 546.6,335.0 546.6,339.0 545.6,340.0 545.6,348.0 544.6,349.0 544.6,351.0 543.0,352.7 542.0,352.7 536.7,358.0 536.7,359.0 537.7,360.0 537.7,361.0 541.0,364.4 542.0,364.4 544.0,366.4 546.0,366.4 549.0,368.4 551.0,368.4 556.0,373.4 561.0,375.4 562.0,376.4 565.0,376.4 566.0,375.4 572.0,375.4 573.0,374.4 576.0,374.4 577.0,373.4 580.0,373.4 581.0,372.4 584.0,372.4 588.0,366.4 591.0,365.4 595.4,362.0 595.4,361.0 600.4,355.0 602.4,350.0 609.0,343.4 610.0,343.4 612.0,341.4 613.0,341.4 614.0,340.4 617.0,340.4 618.0,339.4 620.0,339.4 621.0,338.4 624.0,338.4 625.0,337.4 628.0,337.4 629.0,336.4 633.0,336.4 634.0,335.4 645.0,335.4 646.0,334.4 648.0,334.4 650.4,332.0 650.4,331.0 652.0,328.5 653.0,328.5 659.0,323.7 660.0,323.7 664.8,321.0 664.9,320.0 667.0,317.0 667.3,314.0 671.0,310.7 674.0,309.4 684.0,308.6 685.0,309.7 690.0,311.7 690.3,313.0 692.3,315.0 692.3,316.0 696.0,319.7 697.0,318.7 702.0,318.7 703.0,317.7 705.0,317.7 706.0,316.7 712.3,317.0 712.5,399.0 710.4,472.0 709.0,488.0 706.3,502.0 703.0,528.3 701.0,539.0 698.3,548.0 698.5,550.0 704.0,558.7 705.6,563.0 705.8,568.0 704.0,573.9 702.0,574.9 700.0,573.4 696.0,564.1 695.4,557.0 696.9,549.0 695.9,546.0 681.0,528.6 672.0,514.5 666.0,510.0 662.0,508.3 656.0,507.1 643.0,506.4 614.0,506.5 596.0,507.8 579.0,511.4 568.0,512.8 565.0,513.8 543.0,533.3 522.0,548.4 511.7,554.0 502.0,558.3 457.0,585.8 444.0,590.3 434.0,589.3 427.0,591.3 406.0,607.4 392.0,613.2 388.0,615.5 378.7,623.0 364.4,636.0 351.1,644.0 342.2,648.0 337.0,648.9 331.0,648.1 328.0,647.0 322.0,643.5 320.0,643.0 306.0,644.0 294.0,641.7 274.0,641.2 259.0,639.6 251.0,637.1 245.0,636.8 230.0,634.4 226.0,634.3 216.0,630.6 207.0,624.6 199.0,616.7 193.9,607.0 192.3,601.0 192.6,599.0 195.0,597.4 195.5,596.0 195.6,588.0 192.3,571.0 193.0,560.8 188.4,547.0 187.9,535.0 189.0,522.0 188.2,514.0 189.4,500.0 191.3,493.0 194.3,487.0 197.5,478.0 202.0,470.2 206.0,465.7 208.0,464.4 211.0,463.7 219.0,463.5 221.4,461.0 222.3,458.0 224.2,456.0 224.3,444.0 223.3,443.0 223.4,440.0 222.5,439.0 222.7,432.0 223.6,431.0 224.1,424.0 226.2,418.0 227.3,414.0 227.3,411.0 228.2,409.0 227.3,400.0 227.2,388.0 228.2,387.0 228.2,382.0 229.2,381.0 232.2,374.0 234.2,372.0 234.2,371.0 236.2,369.0 236.2,368.0 238.2,366.0 238.2,365.0 242.2,360.0 242.2,359.0 248.2,350.0 248.2,349.0 251.0,344.3 252.0,344.3 257.0,340.3 259.0,340.3 260.0,339.4 262.0,339.4 263.0,338.4 266.0,338.4 267.0,337.4 272.0,337.4 273.0,336.5 278.0,336.5 279.0,335.5 282.0,335.5 283.0,334.5 286.0,334.5 287.0,333.5 289.0,333.5 290.6,331.0 290.6,329.0 291.6,328.0 291.7,324.0 292.7,323.0 292.7,316.0 293.7,315.0 293.6,309.0 294.7,308.0 294.6,305.0 298.6,298.0 298.6,295.0 299.6,294.0 299.6,285.0 300.6,284.0 300.5,278.0 300.0,277.5 296.0,277.5 295.0,276.5 293.0,276.4 290.6,275.0 291.6,274.0 291.6,272.0 292.6,271.0 292.6,270.0 295.4,268.0 295.6,267.0 300.0,262.6 303.0,261.5 311.0,254.5 312.0,254.5 318.0,248.5 322.0,246.4 324.4,244.0 325.0,242.4 326.0,242.4 328.0,240.4 329.0,240.4 338.3,231.0 338.3,230.0 342.3,226.0 342.3,225.0 345.3,222.0 345.3,221.0 348.3,218.0 348.3,217.0 350.3,215.0 351.3,212.0 355.3,207.0 357.4,202.0 359.4,200.0 360.6,197.0 363.8,194.0 363.9,193.0 365.0,192.0 365.4,190.0 366.3,189.0 367.0,183.0 366.3,179.0 366.9,178.0 369.0,175.8 377.0,173.4 382.0,170.6 388.0,171.4 391.0,170.7 394.0,171.2 403.0,170.6 405.6,170.0 410.0,166.7 412.0,167.7 425.0,167.2 434.0,168.8 442.0,167.7 454.0,173.3 460.0,174.4 463.0,175.8 468.0,180.0 468.3,181.0 464.7,183.0 465.0,185.2 464.0,186.9 454.0,187.4 453.0,187.0 451.9,185.0 451.2,181.0 451.6,179.0 451.0,177.6 448.0,177.1 447.0,176.0 442.0,176.2 441.0,175.2 435.0,175.6 434.0,174.6 431.8,175.0 432.8,178.0 432.1,181.0 434.0,181.3 435.0,182.5 439.0,182.7 440.0,183.8 444.0,183.9 447.0,186.7 448.5,187.0 448.6,189.0 449.7,190.0 447.0,192.5 445.0,192.4 444.0,193.4 440.0,193.3 435.0,196.7 432.0,196.7 430.6,199.0 433.0,201.4 434.0,200.4 436.0,200.3 437.3,199.0 437.3,198.0 439.0,197.4 442.0,200.3 445.0,201.4 448.0,203.5 450.0,203.5 451.0,204.6 452.0,204.6 455.0,207.7 456.0,207.7 459.0,210.7 460.3,211.0 460.3,212.0 462.0,214.7 463.0,214.7 464.0,215.7 466.0,215.7 467.0,216.7 469.0,216.7 472.0,218.7 474.0,218.6 475.0,219.6 481.0,219.7 482.0,218.7 485.0,218.7 486.0,217.7 488.0,217.8 489.0,216.8 494.0,216.9 495.0,215.9 503.0,215.9 504.0,216.9 505.0,215.8 507.0,215.7 510.9,213.0 509.0,201.0 515.0,186.0 514.4,184.0 509.7,177.0 508.9,174.0 509.1,160.0 511.0,148.5 516.7,128.0 520.7,116.0 524.5,109.0 535.4,93.0 545.0,73.0ZM704.6,165.0 711.0,164.6 711.5,165.0 711.2,218.0 710.0,223.0 709.9,239.0 708.7,245.0 708.5,258.0 707.0,259.9 706.0,260.0 704.0,258.6 701.0,260.6 700.0,260.6 675.0,253.3 661.0,245.0 655.0,244.3 654.0,243.3 653.6,240.0 654.4,236.0 663.0,218.0 672.4,207.0 673.2,205.0 672.7,201.0 677.7,197.0 678.9,187.0 681.4,180.0 681.0,178.0 682.0,176.9 683.0,176.9 685.0,174.7 686.0,174.7 688.0,172.6 689.0,172.6 691.0,170.6 692.0,170.6 701.0,165.6 704.0,165.6 704.6,165.0ZM326.7,193.0 331.0,192.5 334.0,193.8 336.2,198.0 336.5,200.0 341.2,205.0 341.0,207.3 336.0,203.5 334.0,203.2 329.7,201.0 327.0,198.3 325.8,196.0 325.8,194.0 326.7,193.0ZM343.8,212.0 344.0,213.3 343.8,212.0ZM344.7,214.0 345.3,214.0 344.7,214.0ZM183.3,485.0 184.0,484.3 185.0,484.5 186.3,486.0 186.0,488.2 184.0,490.2 183.0,490.1 182.4,488.0 183.3,485.0ZM197.7,670.0 204.0,669.7 205.0,670.7 213.0,670.7 214.0,671.7 218.0,671.8 219.0,672.9 220.0,672.9 224.0,676.9 227.0,676.9 228.0,677.9 238.0,677.9 239.2,677.0 240.2,679.0 242.5,689.0 245.3,693.0 244.0,698.3 238.0,703.6 223.0,710.7 219.0,711.5 208.2,711.0 207.6,712.0 208.1,714.0 207.5,715.0 206.0,716.2 203.0,716.8 198.0,716.6 196.0,715.4 195.2,714.0 197.0,712.3 203.3,711.0 182.0,708.4 169.0,704.0 162.6,701.0 160.0,698.9 158.5,695.0 156.0,691.7 154.8,689.0 155.1,685.0 157.0,682.0 164.0,679.2 167.0,679.0 169.0,678.2 176.0,680.7 181.0,675.7 184.0,674.7 186.0,672.7 188.0,672.7 189.0,671.7 193.0,671.7 194.0,670.7 197.0,670.7 197.7,670.0Z"/>
<path fill="#00ff99" fill-rule="evenodd" d="M545.9,73.0 546.0,72.0 562.4,72.0 562.4,204.0 561.9,210.0 561.0,211.8 559.0,213.3 553.0,213.6 551.0,214.5 551.5,216.0 549.0,224.8 545.5,233.0 542.4,238.0 540.0,240.3 537.0,242.2 531.0,244.0 526.0,247.0 524.0,247.1 519.0,249.7 514.0,250.8 511.4,252.0 509.0,254.5 507.6,255.0 504.0,259.1 503.0,259.1 499.0,263.3 498.0,263.3 495.0,266.3 494.0,266.3 490.0,270.3 484.0,272.3 478.3,278.0 478.3,279.0 477.3,280.0 477.3,282.0 476.3,283.0 481.0,288.6 484.0,288.6 485.0,289.6 488.0,289.5 489.0,288.5 491.0,288.5 492.0,287.5 494.0,287.5 495.0,286.5 507.0,286.5 508.0,287.5 510.0,287.5 512.5,289.0 513.5,292.0 515.5,294.0 515.5,295.0 525.0,304.6 528.0,304.6 529.0,305.6 531.0,305.7 532.0,304.7 533.0,304.7 534.0,303.8 536.0,303.8 537.0,302.8 541.0,305.9 542.0,305.9 545.1,309.0 546.1,312.0 548.1,314.0 548.1,318.0 549.1,319.0 549.1,331.0 546.1,335.0 546.1,339.0 545.2,340.0 545.2,348.0 544.2,349.0 544.2,351.0 543.0,352.2 542.0,352.2 536.3,358.0 536.3,359.0 537.2,360.0 537.2,361.0 541.0,364.8 542.0,364.8 544.0,366.8 546.0,366.8 549.0,368.8 551.0,368.8 556.0,373.9 561.0,375.9 562.0,376.9 565.0,376.9 566.0,375.9 572.0,375.9 573.0,374.9 576.0,374.9 577.0,373.9 580.0,373.9 581.0,372.9 584.0,372.9 585.9,371.0 585.9,370.0 587.9,368.0 588.0,366.9 591.0,365.9 595.9,362.0 595.9,361.0 600.9,355.0 602.9,350.0 609.0,343.9 610.0,343.9 612.0,341.9 613.0,341.9 614.0,340.9 617.0,340.9 618.0,339.9 620.0,339.9 621.0,338.9 624.0,338.9 625.0,337.9 628.0,337.9 629.0,336.9 633.0,336.9 634.0,335.9 645.0,335.9 646.0,334.9 648.0,334.9 650.9,332.0 652.0,328.9 653.0,328.9 656.0,326.1 657.1,326.0 659.0,324.4 665.0,321.8 667.7,317.0 668.0,314.7 672.0,311.0 674.0,310.7 675.0,309.9 684.0,309.4 689.0,312.2 691.6,315.0 692.0,316.5 696.0,320.2 698.0,319.2 702.0,319.2 707.0,317.2 711.0,317.2 711.8,318.0 712.2,358.0 712.1,400.0 711.3,407.0 711.0,432.0 709.0,471.8 707.0,483.6 704.0,491.2 701.0,494.6 698.0,496.4 694.0,497.8 687.0,498.9 659.0,499.7 614.0,502.2 565.0,506.1 561.0,506.8 558.1,509.0 539.0,528.4 516.0,538.7 498.0,547.8 453.0,578.0 444.0,580.4 434.0,579.7 425.0,582.4 420.0,585.2 413.0,592.2 394.0,599.2 379.1,606.0 357.0,621.6 347.0,627.5 342.0,629.5 333.0,630.7 325.0,628.8 312.0,637.1 308.0,638.7 304.0,639.2 289.0,636.5 271.0,636.4 260.0,634.9 252.0,632.2 246.0,633.6 241.0,633.2 227.0,630.4 218.7,627.0 210.0,621.0 203.0,613.0 198.4,598.0 197.6,587.0 193.9,570.0 196.1,560.0 196.1,557.0 190.7,536.0 192.2,519.0 191.5,509.0 192.7,497.0 199.0,479.0 203.0,472.1 208.0,467.7 219.0,466.9 221.0,466.2 223.9,463.0 227.1,457.0 226.3,444.0 223.9,438.0 223.8,433.0 224.7,431.0 225.2,424.0 229.5,409.0 228.3,393.0 228.3,389.0 229.3,387.0 229.3,383.0 233.7,374.0 243.0,360.7 251.3,346.0 254.0,343.7 257.0,341.7 264.0,339.3 266.0,339.4 268.0,338.4 272.0,338.4 274.0,337.4 278.0,337.4 280.0,336.4 282.0,336.4 284.0,335.3 289.0,334.3 290.0,333.7 291.3,331.0 292.3,328.0 292.2,325.0 293.2,323.0 293.2,317.0 294.2,315.0 294.3,309.0 295.2,308.0 295.3,305.0 299.1,298.0 299.2,295.0 300.1,294.0 300.0,285.0 301.0,284.0 301.0,278.0 300.0,277.0 296.0,277.0 295.0,276.0 293.0,276.0 292.0,275.0 292.0,272.0 293.0,271.0 293.0,270.0 295.8,268.0 296.0,267.0 300.0,263.0 303.0,262.0 306.0,259.0 307.0,259.0 318.0,248.9 322.0,246.7 324.7,244.0 325.0,242.9 326.0,242.8 328.0,240.8 329.0,240.8 338.8,231.0 338.8,230.0 342.8,226.0 342.8,225.0 345.8,222.0 345.8,221.0 350.8,215.0 351.8,212.0 355.8,207.0 357.8,202.0 359.8,200.0 361.1,197.0 364.0,194.6 365.6,192.0 367.0,189.0 367.7,185.0 367.6,179.0 369.1,177.0 382.0,172.0 403.0,171.4 406.0,170.8 410.0,168.5 423.3,169.0 429.8,171.0 429.6,173.0 427.0,175.0 428.1,177.0 428.3,181.0 429.0,182.2 430.0,181.4 440.0,184.8 443.0,184.9 447.8,188.0 448.0,189.0 449.1,190.0 447.0,192.1 445.0,191.8 444.0,192.6 440.0,192.7 435.0,196.2 432.0,196.3 430.2,199.0 433.0,201.9 434.0,200.8 436.0,200.8 437.8,199.0 437.8,198.0 439.0,197.8 442.0,200.8 445.0,201.8 448.0,203.9 450.0,204.0 452.0,205.2 454.5,208.0 456.0,208.6 459.7,212.0 461.4,215.0 467.0,217.2 469.0,217.4 475.0,220.1 481.0,220.2 490.0,217.4 494.0,217.5 496.0,216.5 502.0,216.6 504.0,217.5 507.5,216.0 512.0,212.4 513.6,212.0 512.1,203.0 512.2,200.0 514.4,194.0 517.5,189.0 517.9,187.0 512.8,179.0 511.9,176.0 512.0,153.0 514.0,140.7 519.0,123.4 523.0,113.0 535.8,94.0 545.9,73.0ZM541.0,221.7 540.5,222.0 541.0,221.7ZM704.8,165.0 711.2,165.0 711.0,202.0 708.7,206.0 708.7,216.0 708.0,218.7 703.0,222.8 700.0,223.6 691.0,221.8 683.0,218.7 674.0,212.8 672.6,211.0 676.0,203.0 681.6,200.0 683.6,198.0 684.8,185.0 686.6,177.0 686.0,175.0 691.0,170.8 692.0,170.8 701.0,165.8 704.0,165.8 704.8,165.0ZM685.0,175.0 685.9,175.0 685.0,175.0ZM453.7,176.0 456.0,175.8 462.0,177.3 465.5,180.0 465.5,181.0 464.0,182.3 463.0,181.5 461.8,182.0 461.0,183.7 457.0,183.8 455.2,182.0 455.7,180.0 454.0,179.5 453.2,178.0 452.8,177.0 453.7,176.0ZM198.0,670.0 204.0,670.0 205.0,671.0 213.0,671.0 214.0,672.0 217.0,672.3 223.0,677.8 226.0,678.1 228.0,679.1 238.0,679.6 239.0,681.0 240.0,687.0 237.2,689.0 236.8,690.0 240.9,694.0 240.8,696.0 238.0,698.1 232.0,698.2 224.0,701.1 214.0,702.9 204.0,701.6 198.0,700.2 188.0,699.6 177.0,696.0 175.3,694.0 174.3,691.0 178.3,687.0 179.1,680.0 181.0,676.0 184.0,675.0 186.0,673.0 188.0,673.0 189.0,672.0 193.0,672.0 194.0,671.0 197.0,671.0 198.0,670.0Z"/>
<path fill="#00ff66" fill-rule="evenodd" d="M547.0,73.0 547.2,72.0 559.1,72.0 558.7,206.0 557.0,208.0 552.0,207.5 550.0,207.9 543.0,212.0 532.0,216.2 531.9,217.0 533.3,219.0 533.2,220.0 536.0,223.0 538.2,227.0 537.6,230.0 532.0,241.0 525.0,245.7 518.0,248.9 511.0,251.2 502.0,259.0 499.0,262.4 493.5,266.0 490.0,269.6 483.7,272.0 478.0,277.6 475.8,283.0 477.6,285.0 478.0,286.4 480.7,289.0 484.0,289.2 485.0,290.1 488.0,290.0 489.0,289.0 491.0,288.9 492.0,287.9 494.0,287.9 495.0,287.0 507.0,287.0 508.0,288.0 510.0,288.0 511.0,289.0 512.0,289.0 513.0,292.0 515.1,294.0 515.1,295.0 525.0,305.0 531.0,306.2 537.0,303.9 541.9,307.0 543.9,309.0 547.5,315.0 547.5,318.0 548.5,320.0 548.5,330.0 545.5,335.0 545.5,338.0 544.5,340.0 544.6,347.0 543.2,351.0 541.3,352.0 536.0,357.4 535.7,359.0 537.0,361.7 540.2,365.0 544.0,367.4 551.0,370.0 555.0,374.1 562.0,377.5 565.0,377.5 567.0,376.5 572.0,376.5 574.0,375.5 576.0,375.5 578.0,374.5 580.0,374.5 582.0,373.5 585.0,373.1 589.0,367.5 592.0,366.1 596.1,363.0 601.1,356.0 604.0,350.1 609.1,345.0 615.0,341.5 617.0,341.5 622.0,339.5 628.0,338.5 630.0,337.5 633.0,337.5 635.0,336.5 645.0,336.5 649.0,335.1 651.1,333.0 653.0,329.6 659.7,325.0 665.8,322.0 668.3,318.0 668.9,315.0 672.0,312.3 676.0,310.9 683.0,309.9 689.0,312.9 691.3,317.0 695.0,320.7 696.0,320.9 698.0,319.9 702.0,319.9 707.0,317.9 711.0,317.9 711.6,356.0 711.4,399.0 710.2,408.0 710.0,427.0 707.0,465.6 705.9,471.0 703.0,477.4 700.0,481.0 695.7,484.0 690.0,486.3 682.5,488.0 659.0,491.4 628.4,497.0 597.0,500.2 563.0,501.7 559.0,502.5 539.0,516.4 519.0,522.4 503.0,529.0 485.1,538.0 464.0,552.3 434.3,570.0 403.0,580.7 369.9,597.0 350.0,608.9 339.0,612.4 322.0,616.7 318.4,620.0 311.1,629.0 307.0,631.8 304.0,632.0 296.0,629.4 291.0,628.7 275.0,630.2 267.0,629.8 261.0,629.0 252.0,625.9 250.0,626.4 246.0,629.2 243.0,629.8 237.0,628.5 230.0,626.1 222.0,622.0 213.0,616.3 210.0,613.4 204.0,603.2 201.8,598.0 200.6,586.0 196.1,571.0 196.4,567.0 199.7,558.0 200.3,555.0 199.3,550.0 194.7,541.0 193.5,536.0 193.6,528.0 195.3,516.0 195.4,502.0 196.2,496.0 198.6,490.0 201.0,480.0 203.0,476.6 205.0,475.0 209.0,473.3 220.0,472.7 223.0,471.6 228.0,466.6 231.8,459.0 232.1,456.0 231.2,449.0 229.3,443.0 225.9,437.0 225.6,434.0 226.4,431.0 226.6,425.0 229.6,415.0 231.3,407.0 231.5,402.0 230.0,394.0 230.0,389.1 230.9,387.0 231.0,383.0 235.0,375.0 244.7,361.0 252.7,347.0 255.0,345.0 258.0,343.0 264.0,341.0 279.0,338.6 290.0,335.4 291.2,334.0 293.1,328.0 293.0,325.0 293.9,323.0 293.9,317.0 294.9,315.0 294.9,310.0 295.9,308.0 295.9,306.0 299.8,298.0 299.8,296.0 300.8,294.0 300.7,286.0 301.7,284.0 301.3,277.0 300.0,276.4 297.0,276.3 293.5,275.0 292.7,273.0 294.0,270.5 300.0,264.3 304.0,262.3 308.0,259.2 325.0,244.0 329.9,241.0 339.0,231.8 339.8,230.0 343.0,226.7 346.7,221.0 349.0,218.7 362.0,197.4 366.0,193.0 368.6,187.0 369.4,183.0 368.9,180.0 369.5,179.0 373.0,176.6 381.0,173.9 391.0,172.6 394.0,173.0 402.0,172.5 406.0,171.9 409.0,170.4 415.0,170.0 418.4,171.0 418.7,172.0 415.0,172.2 414.6,173.0 419.0,173.7 419.3,172.0 421.0,171.3 422.0,172.0 422.0,173.0 420.1,174.0 423.6,176.0 424.9,179.0 429.0,183.0 431.0,182.7 435.0,184.7 443.0,186.5 446.0,188.3 447.5,190.0 446.0,191.1 440.0,191.7 435.0,195.2 431.4,196.0 429.5,199.0 432.0,202.2 433.0,202.6 436.0,201.4 439.0,198.8 441.2,201.0 451.4,206.0 454.0,208.7 459.0,212.0 461.0,215.7 475.0,220.9 481.0,221.0 490.0,218.2 494.0,218.3 496.0,217.4 502.0,217.6 504.0,218.5 508.0,216.8 512.8,213.0 514.0,212.8 515.0,213.6 517.0,213.0 515.0,203.1 515.0,200.0 517.3,195.0 522.5,190.0 521.8,188.0 515.9,181.0 514.8,178.0 514.7,148.0 516.0,137.4 520.0,123.3 523.9,113.0 532.0,100.4 537.0,94.0 547.0,73.0ZM704.3,167.0 707.0,166.1 709.0,166.1 709.9,167.0 709.8,175.0 708.7,181.0 708.4,200.0 707.0,201.3 703.0,202.2 693.0,200.6 691.0,199.0 690.4,192.0 690.8,182.0 692.5,173.0 696.0,170.1 702.0,167.1 704.3,167.0ZM458.1,179.0 459.0,178.5 460.0,178.9 460.1,180.0 458.0,180.2 458.1,179.0ZM547.6,216.0 548.0,215.6 548.5,216.0 548.5,217.0 548.0,218.9 547.0,219.5 546.1,219.0 547.6,216.0ZM198.1,674.0 200.0,673.2 202.0,673.2 205.0,674.2 211.0,674.2 216.0,675.7 217.4,678.0 218.7,683.0 218.0,685.0 216.0,687.0 216.2,688.0 220.8,690.0 221.4,691.0 211.0,693.8 206.0,694.0 197.0,690.5 192.0,689.6 185.0,687.1 182.0,686.8 181.2,686.0 181.0,683.6 181.6,681.0 183.0,679.1 188.0,676.2 198.1,674.0Z"/>
<path fill="#00ff33" fill-rule="evenodd" d="M536.3,98.0 539.0,97.4 540.0,97.9 540.7,100.0 540.7,187.0 540.5,189.0 539.0,191.0 535.0,192.5 532.0,191.7 524.0,186.6 519.9,183.0 518.3,180.0 518.0,142.0 519.0,131.8 524.0,115.6 526.0,111.4 532.0,102.2 536.3,98.0ZM407.1,173.0 410.0,172.2 418.0,175.6 425.0,180.1 429.0,184.1 432.0,184.5 435.0,186.4 442.3,189.0 439.0,190.0 434.0,194.9 431.0,195.3 430.2,196.0 428.7,199.0 428.8,200.0 431.4,203.0 433.0,203.6 434.0,203.3 437.0,202.0 439.0,199.8 441.0,201.9 451.2,207.0 458.0,213.0 460.0,216.4 474.0,221.7 482.0,221.9 491.0,219.5 495.0,219.6 497.0,218.8 505.0,219.9 508.0,218.6 513.0,214.4 515.0,214.9 519.0,213.8 520.0,212.6 522.0,212.5 523.3,210.0 523.0,207.9 521.0,207.1 520.0,205.8 518.6,201.0 519.9,198.0 523.0,196.3 529.0,196.2 544.8,199.0 545.1,200.0 544.2,201.0 540.5,203.0 531.0,206.4 525.0,207.7 524.3,213.0 525.5,215.0 527.0,215.7 528.9,218.0 529.3,225.0 528.4,228.0 523.9,236.0 523.3,241.0 522.3,243.0 519.0,246.0 510.0,250.2 499.0,261.2 493.0,265.3 489.2,269.0 483.0,271.4 477.4,277.0 475.1,283.0 477.4,287.0 480.0,289.6 483.0,289.8 485.0,290.8 488.0,290.7 496.0,287.6 506.0,287.7 509.0,288.7 511.3,290.0 514.8,296.0 524.0,305.3 531.0,306.9 535.0,305.1 537.0,304.9 543.0,309.1 546.6,315.0 546.6,318.0 547.6,320.0 547.6,330.0 544.7,335.0 544.7,338.0 543.8,340.0 543.8,347.0 542.9,350.0 535.3,357.0 535.2,360.0 536.2,362.0 540.0,365.9 543.0,367.9 550.0,370.3 554.9,375.0 561.0,378.1 565.0,378.4 567.0,377.4 572.0,377.4 574.0,376.4 585.0,374.1 590.0,368.1 595.2,365.0 597.0,363.2 602.1,356.0 605.0,350.2 609.2,346.0 615.0,342.4 618.0,342.1 622.0,340.4 628.0,339.4 630.0,338.4 633.0,338.4 635.0,337.4 645.0,337.4 649.0,336.1 652.0,333.2 653.1,331.0 656.4,328.0 666.4,323.0 669.8,318.0 670.3,316.0 673.0,313.8 682.0,311.3 683.0,311.5 688.0,313.9 690.5,318.0 695.0,322.0 699.0,320.9 703.0,320.7 707.4,319.0 710.0,318.9 710.1,345.0 710.9,357.0 710.3,400.0 708.5,408.0 707.8,426.0 706.0,442.3 702.0,455.6 700.0,459.6 697.0,463.7 693.2,467.0 689.0,469.2 652.0,479.5 632.1,487.0 615.4,492.0 601.0,494.6 586.0,496.4 541.0,496.3 537.9,497.0 518.0,504.5 477.0,525.6 441.0,547.2 421.0,557.5 405.8,567.0 385.0,575.9 369.0,583.9 346.0,598.9 308.0,617.5 304.0,618.5 292.0,619.1 271.0,622.0 263.0,620.9 252.0,617.4 250.0,617.6 245.0,620.2 241.0,619.6 234.0,617.2 218.0,608.3 215.1,605.0 210.1,597.0 206.0,580.0 204.0,574.0 200.4,567.0 200.9,563.0 204.4,555.0 204.9,552.0 203.6,549.0 197.7,541.0 196.7,538.0 196.3,533.0 196.6,528.0 197.5,524.0 202.8,513.0 202.5,500.0 205.6,493.0 207.1,484.0 210.0,482.4 222.0,481.1 228.0,478.3 234.0,471.6 239.1,461.0 239.5,456.0 238.1,449.0 235.4,444.0 231.8,440.0 228.8,435.0 229.0,425.2 232.9,410.0 234.5,398.0 234.4,394.0 233.0,390.7 233.6,388.0 233.4,384.0 237.5,376.0 246.4,363.0 254.4,349.0 256.0,347.5 259.0,345.5 265.0,343.6 279.0,341.1 285.0,339.0 287.0,338.9 291.0,337.2 292.3,336.0 294.4,329.0 294.9,318.0 295.9,315.0 296.0,310.3 296.7,309.0 297.0,306.0 300.7,299.0 301.8,294.0 301.8,286.0 302.7,284.0 302.3,277.0 301.0,275.7 297.0,275.3 294.0,274.3 293.7,273.0 295.0,270.6 300.6,265.0 304.0,263.3 308.4,260.0 325.0,245.0 330.0,241.9 339.8,232.0 340.8,230.0 343.8,227.0 349.8,219.0 362.6,198.0 365.8,195.0 369.4,190.0 370.9,186.0 371.2,181.0 373.0,178.4 376.0,176.8 383.0,174.9 391.0,174.0 401.0,173.9 407.1,173.0Z"/>
<path fill="#00ff00" fill-rule="evenodd" d="M406.5,175.0 410.0,174.8 418.0,177.2 424.0,181.1 428.0,185.0 432.0,186.6 435.2,189.0 435.2,191.0 434.1,193.0 429.6,195.0 427.3,199.0 427.5,201.0 431.0,204.9 434.0,205.2 437.0,203.7 439.0,201.7 440.0,202.8 450.0,208.3 456.7,215.0 458.0,217.4 462.0,219.7 474.0,223.6 482.0,224.1 491.0,222.5 498.0,222.4 503.0,224.4 506.0,224.7 511.0,223.3 513.1,221.0 517.6,218.0 521.0,217.9 521.0,220.1 518.3,225.0 516.4,230.0 511.3,238.0 510.6,244.0 507.0,250.2 502.5,256.0 498.0,260.6 492.0,264.7 489.0,267.8 482.0,270.9 476.9,276.0 474.3,282.0 474.3,284.0 479.0,290.1 484.0,291.6 488.0,291.6 496.0,288.5 505.0,288.6 509.0,289.6 510.7,291.0 514.0,296.2 524.0,306.4 531.0,308.0 537.0,306.3 542.0,310.0 545.3,316.0 545.5,319.0 546.3,321.0 546.3,329.0 543.6,334.0 542.6,340.0 542.7,346.0 541.7,349.0 534.7,356.0 533.9,358.0 534.1,360.0 535.5,363.0 539.0,366.7 543.0,369.3 550.0,371.9 554.0,376.1 560.0,379.2 565.0,379.8 568.0,378.7 573.0,378.5 586.0,375.0 591.0,369.0 596.0,366.0 598.0,364.1 603.0,357.0 606.0,351.1 610.0,347.1 613.1,345.0 616.0,343.7 631.0,339.7 634.0,339.5 636.0,338.7 645.0,338.7 649.0,337.5 653.0,334.0 654.0,332.0 657.0,329.3 667.0,324.7 674.6,317.0 681.0,316.3 685.0,316.6 688.0,320.2 693.0,323.8 695.0,324.3 697.0,324.0 699.0,322.8 703.0,322.6 708.0,320.7 708.3,344.0 709.6,355.0 708.6,386.0 706.6,393.0 704.7,417.0 703.0,425.9 701.0,429.8 697.0,434.2 692.0,437.2 687.0,439.2 676.0,441.7 657.0,444.7 633.7,447.0 625.7,449.0 620.8,451.0 618.2,453.0 610.6,464.0 598.0,479.6 594.0,483.0 586.5,486.0 578.0,487.7 566.6,487.0 559.8,486.0 545.0,481.4 540.0,480.9 532.0,482.4 509.0,489.7 478.0,505.4 439.5,528.0 421.0,537.4 418.0,539.4 404.8,551.0 397.1,556.0 385.0,563.0 367.0,570.4 343.1,585.0 323.0,596.4 317.0,601.1 312.0,603.5 304.0,605.3 284.0,607.7 267.0,607.1 261.0,606.0 242.0,600.0 229.2,594.0 220.0,582.3 218.0,578.7 213.0,565.0 209.6,559.0 209.4,557.0 210.8,552.0 210.3,550.0 202.0,541.0 200.9,537.0 201.3,533.0 202.5,530.0 213.0,520.0 215.8,516.0 216.9,512.0 216.4,506.0 218.1,497.0 230.0,492.3 237.3,487.0 244.7,478.0 250.3,466.0 251.2,458.0 249.5,450.0 245.9,445.0 235.0,436.0 233.1,428.0 236.6,410.0 238.4,392.0 239.7,385.0 241.5,380.0 251.5,362.0 258.8,351.0 266.0,347.9 280.0,344.9 289.0,342.3 293.0,340.2 295.0,337.8 296.3,334.0 296.8,330.0 296.8,318.0 297.6,316.0 297.7,311.0 298.7,307.0 302.5,299.0 303.5,294.0 303.3,287.0 304.3,284.0 304.1,278.0 303.5,276.0 301.0,274.2 298.0,274.0 295.9,273.0 296.0,271.9 301.8,266.0 309.4,261.0 312.5,258.0 314.4,257.0 326.0,245.8 331.0,242.7 340.5,233.0 341.5,231.0 344.5,228.0 350.4,220.0 357.5,209.0 360.5,203.0 364.0,198.3 366.9,196.0 372.6,190.0 373.6,182.0 375.7,179.0 384.0,176.2 406.5,175.0Z"/>
<path fill="#33ff00" fill-rule="evenodd" d="M384.7,178.0 408.0,177.1 417.0,178.6 421.2,181.0 427.0,186.5 431.5,189.0 432.0,189.9 431.9,191.0 427.5,194.0 424.8,197.0 423.5,200.0 424.6,204.0 430.0,209.5 434.0,210.9 439.0,210.3 446.0,214.7 450.0,218.2 454.0,223.2 459.0,226.3 491.0,230.0 499.0,232.3 501.0,233.8 501.4,236.0 500.3,240.0 501.5,248.0 500.8,253.0 497.0,258.5 491.0,263.0 488.0,266.1 481.0,269.3 475.4,275.0 472.4,282.0 472.4,284.0 475.4,289.0 478.0,291.6 480.0,292.6 484.0,293.2 488.0,293.0 497.0,289.8 505.0,289.9 508.3,291.0 509.7,292.0 513.0,297.1 523.0,307.5 531.0,309.9 536.0,308.7 540.0,311.7 542.7,317.0 543.7,322.0 543.8,328.0 541.3,334.0 540.5,339.0 540.6,346.0 539.8,348.0 533.0,355.0 532.0,359.0 534.0,364.6 537.0,368.1 541.0,371.2 548.0,374.2 553.0,379.0 561.0,383.0 566.0,382.9 569.0,381.8 573.0,381.6 586.0,378.1 590.0,375.0 593.0,371.0 598.0,368.0 600.0,366.0 605.7,358.0 608.1,353.0 612.0,349.1 615.0,347.1 632.0,342.5 637.0,341.5 646.0,341.3 650.0,339.9 652.0,338.8 659.0,331.2 675.0,324.9 680.0,323.7 693.0,328.7 697.0,329.1 702.0,328.4 702.8,329.0 704.5,349.0 702.3,394.0 701.0,403.5 699.0,407.3 696.0,409.7 691.0,411.9 685.0,413.1 680.0,413.5 667.0,412.5 644.0,412.5 634.0,414.1 600.0,414.1 562.0,419.8 554.5,422.0 523.0,433.9 518.0,436.6 499.7,450.0 485.0,458.8 472.0,476.7 468.1,480.0 447.0,486.2 433.0,491.6 414.0,494.8 400.0,498.3 384.1,501.0 358.5,511.0 339.0,521.3 336.0,524.3 328.5,540.0 319.0,550.2 303.0,572.5 298.0,578.0 293.0,578.7 265.0,577.8 259.0,577.1 250.4,573.0 245.7,570.0 239.0,562.0 228.0,551.9 225.8,549.0 225.0,546.0 225.5,540.0 226.6,535.0 228.4,531.0 230.7,528.0 239.2,520.0 248.0,516.9 253.0,514.0 256.2,511.0 259.1,507.0 264.9,496.0 270.6,481.0 273.6,472.0 275.1,464.0 275.4,455.0 274.6,452.0 272.5,449.0 266.0,444.0 247.0,435.1 244.1,432.0 242.6,429.0 242.3,420.0 244.0,410.0 244.3,393.0 245.3,387.0 260.3,361.0 264.0,356.1 268.0,354.5 291.0,348.1 295.0,345.9 298.5,342.0 301.2,336.0 302.2,332.0 302.1,320.0 303.0,313.0 304.1,308.0 307.0,301.0 307.9,295.0 307.7,288.0 308.4,285.0 308.1,278.0 307.2,275.0 305.0,272.6 301.5,271.0 303.0,269.0 311.0,264.0 316.0,259.6 321.9,253.0 327.2,248.0 332.8,244.0 342.0,234.3 352.2,221.0 365.3,200.0 374.0,194.5 375.3,193.0 376.1,190.0 376.3,184.0 377.3,181.0 380.1,179.0 384.7,178.0Z"/>
<path fill="#66ff00" fill-rule="evenodd" d="M390.8,181.0 408.0,180.5 414.0,181.6 415.9,183.0 416.7,185.0 416.3,188.0 414.8,193.0 411.7,198.0 411.7,201.0 417.5,212.0 430.5,231.0 433.0,233.5 435.0,234.3 441.0,235.0 448.0,237.2 454.0,237.9 459.0,238.0 465.0,236.2 468.0,235.9 479.2,239.0 487.0,242.0 488.4,247.0 487.1,253.0 483.9,259.0 478.0,264.2 470.2,273.0 466.9,282.0 467.0,285.0 468.2,288.0 471.0,292.3 474.0,295.4 476.0,296.8 479.0,297.8 483.0,297.7 488.0,296.5 498.0,292.4 504.0,292.7 507.0,293.6 520.8,310.0 525.0,312.0 534.3,318.0 535.0,319.1 536.0,326.0 535.0,332.0 534.5,344.0 528.6,351.0 526.6,355.0 525.9,361.0 526.0,374.0 524.7,378.0 522.4,381.0 519.0,383.3 514.0,384.1 476.0,385.4 464.2,389.0 458.0,392.0 445.0,403.0 442.4,407.0 438.9,420.0 435.4,447.0 433.5,451.0 431.0,453.0 428.0,453.9 402.0,457.1 399.0,456.5 396.0,454.9 390.5,451.0 387.7,448.0 378.2,430.0 362.0,394.1 360.0,391.5 356.0,391.3 332.8,398.0 320.0,399.2 297.1,418.0 290.0,424.8 288.0,425.8 285.0,426.2 281.0,425.9 278.0,424.9 272.8,422.0 270.7,420.0 270.1,418.0 270.2,411.0 267.6,394.0 268.9,388.0 276.5,372.0 281.0,368.5 294.0,360.4 307.0,351.2 318.0,346.2 329.6,331.0 329.8,327.0 326.7,316.0 323.9,302.0 322.9,291.0 322.9,275.0 326.7,264.0 332.0,254.7 337.7,249.0 357.0,224.2 370.4,203.0 377.0,198.9 378.7,197.0 379.7,193.0 379.9,186.0 381.0,183.0 384.0,181.4 390.8,181.0ZM671.1,340.0 676.0,339.4 682.0,340.2 689.0,343.3 691.0,345.0 692.6,348.0 693.5,361.0 693.0,370.4 690.0,378.0 687.0,382.2 684.0,384.9 679.9,387.0 675.0,386.9 665.0,383.4 649.0,376.4 646.0,375.7 642.0,377.5 630.1,387.0 624.0,390.1 620.0,390.6 612.0,390.1 607.0,389.0 605.4,388.0 605.0,385.0 609.0,377.1 622.0,362.5 639.0,354.9 648.0,352.6 656.0,349.5 660.3,347.0 667.0,341.8 671.1,340.0Z"/>
<path fill="#99ff00" fill-rule="evenodd" d="M401.2,245.0 407.0,244.1 411.0,244.7 415.2,247.0 418.6,251.0 420.4,257.0 421.0,261.0 417.0,277.0 417.0,281.0 418.2,286.0 423.3,290.0 437.0,296.0 441.7,300.0 444.7,305.0 450.0,317.7 453.5,323.0 456.3,331.0 456.4,335.0 454.1,339.0 438.0,353.2 434.0,355.5 419.0,358.3 415.0,357.8 411.0,355.8 404.2,351.0 401.0,347.6 397.8,342.0 392.0,328.9 386.5,310.0 382.8,291.0 384.4,270.0 385.6,264.0 390.2,254.0 396.0,247.3 401.2,245.0ZM496.3,304.0 499.0,303.3 500.0,303.9 499.0,307.0 489.5,320.0 486.9,323.0 483.9,325.0 479.0,326.2 473.0,326.4 463.3,324.0 458.2,322.0 458.0,321.0 462.0,319.2 478.0,316.2 488.0,309.0 496.3,304.0Z"/></g>
<g fill="none" stroke="#000" stroke-width="0.9" stroke-linejoin="round">
<polygon points="291.6,327.0 292.6,319.4 293.5,311.7 294.5,306.0 296.4,302.1 298.3,298.3 299.3,292.6 299.8,287.8 300.2,282.0 301.2,278.2 296.4,277.2 290.7,275.3 292.6,269.6 298.3,263.8 304.5,260.2 312.5,253.6 323.1,244.3 332.4,237.7 340.3,228.4 348.3,217.8 354.9,207.2 360.2,197.9 364.2,192.6 365.5,187.3 364.9,181.9 364.2,177.3 368.2,174.6 374.8,172.7 381.4,169.7 390.7,168.8 404.2,169.7 407.0,168.0 409.5,164.5 412.0,161.0 413.0,157.5 409.5,152.5 408.0,151.5 409.2,150.8 414.0,155.5 416.0,153.0 419.5,148.5 420.5,149.5 417.0,155.0 414.5,160.5 411.8,164.5 411.5,167.6 416.7,167.6 423.2,166.5 430.8,167.6 438.4,166.5 440.6,162.1 438.4,153.5 440.6,148.0 445.0,143.7 445.5,145.0 442.5,151.0 441.5,155.0 443.3,161.1 445.0,166.5 451.5,169.7 455.8,171.9 461.2,171.9 464.5,174.1 466.7,177.3 471.0,179.5 474.8,181.1 471.0,182.8 465.6,182.8 460.1,180.6 454.7,179.5 449.3,177.3 442.8,176.3 436.3,175.2 427.6,174.1 420.0,173.0 416.7,172.0 413.5,172.5 418.0,176.0 424.0,179.5 429.0,182.0 430.8,181.1 438.4,182.8 443.9,183.9 448.2,187.1 449.3,190.4 447.1,192.5 440.6,193.6 436.3,195.8 431.9,196.9 430.8,199.0 433.0,201.2 436.3,200.1 438.4,197.4 441.7,200.1 446.0,202.3 451.5,204.5 459.8,210.7 462.2,214.3 468.3,216.7 474.3,219.1 481.5,219.1 490.0,216.7 497.2,215.5 504.4,216.1 511.7,213.1 512.9,212.5 517.3,213.6 522.4,212.0 524.0,207.7 524.9,213.6 530.8,216.2 534.2,220.4 539.2,222.9 542.6,221.2 544.3,217.0 548.5,212.8 551.1,215.3 551.9,222.1 551.1,230.5 559.5,234.8 554.4,236.4 552.0,240.0 549.4,239.0 540.9,242.4 530.8,244.9 521.5,249.1 512.2,252.5 503.8,259.2 495.3,266.0 488.6,271.1 483.5,272.8 478.4,277.8 476.8,282.9 480.1,288.0 486.9,289.6 497.0,286.3 506.8,286.8 511.8,288.4 513.5,291.8 518.6,298.6 525.3,304.5 530.4,305.3 537.2,302.8 543.9,307.0 548.1,313.8 549.8,322.2 549.8,330.7 546.4,335.7 545.6,342.5 544.8,350.9 538.8,355.2 536.3,358.5 538.8,362.8 543.9,366.1 550.7,368.7 555.7,372.9 562.5,376.3 570.9,375.4 577.7,373.7 584.4,372.0 587.8,367.0 594.6,362.8 599.6,356.0 603.0,349.2 608.1,344.2 614.8,340.0 617.4,340.0 628.5,336.9 638.3,335.1 643.2,335.7 649.4,333.8 651.8,328.9 655.5,326.4 659.2,323.4 664.1,321.5 666.0,317.8 666.6,314.1 670.3,309.8 676.4,308.0 683.8,308.6 690.0,311.7 693.7,317.2 696.1,319.1 703.5,317.8 708.4,316.0 712.0,316.0 712.0,614.0 708.5,613.8 704.8,611.1 699.3,612.0 688.3,615.7 677.3,620.3 666.3,615.7 659.0,612.0 651.7,604.7 648.0,595.5 649.8,587.3 644.3,584.5 640.7,579.9 637.9,581.8 633.3,588.2 626.0,591.5 615.0,592.2 607.7,590.9 596.7,592.2 582.0,590.0 571.0,589.6 560.0,589.1 556.7,589.8 545.1,588.3 532.6,586.3 525.8,589.2 518.1,593.1 510.4,596.0 502.6,598.9 491.1,601.8 479.5,605.6 466.0,614.3 456.3,621.1 445.7,625.9 435.1,630.7 425.4,637.5 417.7,642.3 414.1,645.6 407.9,651.8 405.9,657.9 401.8,664.1 393.6,667.2 383.3,668.2 373.1,668.2 364.8,667.2 356.6,664.1 346.4,661.6 338.2,659.0 332.0,657.9 325.9,662.0 317.7,663.1 305.4,663.1 291.0,661.0 280.8,659.0 270.5,657.5 262.9,655.5 258.5,655.8 256.5,660.0 255.6,665.0 255.0,670.0 254.0,674.3 257.5,676.8 264.7,684.1 270.0,687.7 280.8,695.4 291.0,694.8 301.3,695.9 311.5,695.9 311.5,699.0 301.3,699.0 286.9,701.0 278.7,703.1 270.0,702.5 261.1,705.8 246.7,707.6 239.4,711.2 235.8,716.6 237.0,720.0 118.0,720.0 118.0,709.6 121.8,709.4 130.9,705.8 141.7,698.6 148.9,687.7 154.4,678.7 161.6,675.9 170.7,674.1 177.9,677.8 186.9,672.3 199.6,669.6 210.5,670.5 219.5,672.3 224.9,676.8 235.8,677.8 246.7,675.0 252.5,673.5 253.6,669.6 254.4,664.0 255.2,659.0 256.0,656.2 246.7,651.5 235.8,647.0 224.9,642.5 214.1,637.0 203.2,629.8 196.0,622.6 190.6,613.5 187.8,606.3 185.5,599.0 186.5,590.2 184.2,581.1 179.7,573.9 174.3,566.7 168.9,563.0 167.0,555.8 163.4,548.6 156.2,550.4 150.8,548.6 151.7,543.1 156.2,538.6 161.6,537.7 163.4,533.2 168.9,527.8 177.9,526.8 179.7,519.6 178.8,508.8 179.7,497.9 181.5,490.7 182.4,483.4 186.9,483.4 188.8,476.2 192.4,469.0 199.6,464.4 210.5,463.5 219.5,463.5 224.0,456.3 224.9,447.2 223.1,440.0 222.4,437.6 223.3,428.6 224.2,421.3 226.0,414.1 227.8,405.0 227.8,396.0 227.8,388.8 228.7,382.4 231.4,376.1 235.0,370.7 238.7,365.2 242.3,359.8 247.7,350.8 250.4,345.3 256.7,340.8 265.8,338.1 276.7,336.3 283.9,334.7 289.7,332.8"/>
<polygon points="712.0,164.3 701.7,165.3 691.6,170.4 681.5,177.2 671.3,183.1 668.0,187.3 662.0,194.0 658.7,190.7 657.8,183.9 654.4,178.0 652.8,180.5 655.3,189.0 652.8,194.0 647.7,197.4 642.6,202.5 634.2,205.0 629.1,210.9 620.7,210.9 616.4,212.6 617.3,220.2 610.5,227.8 606.3,234.6 612.0,236.5 626.0,237.5 622.0,240.0 608.0,246.0 609.0,248.5 626.0,242.5 629.0,244.0 612.0,253.0 614.0,255.5 630.0,247.5 632.0,249.5 619.0,257.5 622.0,259.0 634.0,252.0 636.0,255.0 628.0,261.0 630.0,262.0 639.2,259.9 642.0,264.0 644.3,268.4 645.7,272.3 646.9,276.0 642.0,279.1 638.3,284.0 639.5,286.5 649.4,288.9 659.2,292.6 667.2,296.9 670.3,293.2 675.2,292.6 683.8,289.5 690.0,286.5 693.7,282.8 694.9,278.5 697.4,277.2 701.1,282.8 706.0,284.6 712.0,284.6"/>
<polygon points="235.0,343.5 240.5,341.7 247.7,334.5 244.1,325.4 249.5,320.9 256.7,321.8 254.9,330.9 259.5,335.4 251.3,342.6 244.1,356.2 236.0,367.0 235.0,359.8 238.7,354.4 234.1,347.1"/>
<polygon points="291.2,243.0 295.2,244.3 297.9,256.3 298.5,262.9 295.2,268.2 290.6,268.2 289.9,254.9 291.9,248.3"/>
<polygon points="303.2,251.0 309.8,249.6 313.8,239.0 316.4,240.3 320.4,244.3 321.8,239.0 324.4,236.3 324.4,244.3 309.8,254.9 304.5,254.9"/>
<polygon points="323.1,193.9 325.7,190.6 331.0,189.9 336.3,192.6 339.0,199.2 343.0,203.2 344.3,208.5 348.3,213.8 345.6,219.1 342.3,215.1 340.3,209.8 335.0,205.8 328.4,203.2 324.4,199.2"/>
</g>
<polygon points="606.0,228.0 607.0,236.0 612.0,239.0 618.0,236.0 626.0,236.0 628.0,240.0 631.0,241.0 633.0,232.0 634.0,228.0 647.3,226.5 654.4,219.4 660.0,214.7 664.0,208.0 666.0,203.0 659.0,204.5 655.2,202.1 647.3,201.3 641.0,202.9 634.0,204.8 629.2,208.4 626.0,211.5 619.0,209.6 616.5,210.8 617.0,216.0 614.0,221.0 609.0,224.0" fill="#fff"/>
<polyline points="631.0,241.0 628.0,240.0 626.0,236.0 618.0,236.0 612.0,239.0 607.0,236.0 606.0,228.0 609.0,224.0 614.0,221.0 617.0,216.0 616.5,210.8 619.0,209.6 626.0,211.5 629.2,208.4 634.0,204.8 641.0,202.9 647.3,201.3 655.2,202.1 659.0,204.5" fill="none" stroke="#000" stroke-width="0.8"/>
<polygon points="640.0,214.0 645.0,211.0 652.0,209.5 655.0,210.5 652.0,214.0 646.0,218.0 641.0,219.5 639.5,217.5" fill="#f8f3d6" stroke="#000" stroke-width="0.7"/>
<polygon points="627.6,213.0 630.0,214.0 632.0,222.0 633.0,232.0 632.0,243.0 629.5,242.0 629.5,232.0 628.5,222.0" fill="#f8f3d6" stroke="#000" stroke-width="0.7"/>
<polygon points="610.0,230.0 613.0,228.0 615.0,232.0 612.0,234.0" fill="#f8f3d6" stroke="#000" stroke-width="0.7"/>
<polygon points="487.2,165.0 493.5,162.3 506.2,156.8 518.9,152.3 529.7,154.1 540.6,146.0 549.6,142.4 550.5,133.3 555.0,129.7 560.5,122.5 571.3,109.8 574.0,98.9 571.3,89.9 570.4,80.9 572.0,76.0 620.0,76.0 620.0,82.7 607.5,85.4 596.7,90.8 587.6,92.6 578.6,93.5 578.6,98.9 587.6,98.9 588.5,102.6 576.7,100.8 574.9,109.8 569.5,117.0 564.1,124.3 558.7,131.5 554.1,135.1 553.2,144.2 555.0,146.0 547.8,147.8 538.8,153.2 529.7,156.8 520.7,155.0 509.8,158.7 497.1,164.1 488.1,165.9" fill="#fff" stroke="#000" stroke-width="0.7"/>
<polygon points="659.0,164.0 663.0,163.0 665.0,172.0 668.0,180.0 672.0,183.0 669.0,188.0 664.0,185.0 661.0,178.0 659.0,170.0" fill="#fff" stroke="#000" stroke-width="0.6"/>
<polygon points="380.5,131.0 383.0,135.0 387.0,142.0 390.0,148.0 393.0,155.0 394.0,163.0 391.0,163.0 388.0,155.0 385.0,147.0 381.0,140.0 379.5,134.0" fill="#fff" stroke="#000" stroke-width="0.6"/>
<polygon points="350.0,153.0 352.0,160.0 356.0,166.0 358.0,172.0 355.0,173.0 351.0,166.0 348.0,158.0" fill="#fff" stroke="#000" stroke-width="0.6"/>
<polygon points="356.0,150.0 359.0,157.0 363.0,163.0 366.0,170.0 364.0,172.0 360.0,165.0 356.0,158.0 354.0,152.0" fill="#fff" stroke="#000" stroke-width="0.6"/>
<polygon points="498.4,223.5 505.0,222.1 514.1,224.0 510.0,225.7 500.0,225.5" fill="#fff" stroke="#000" stroke-width="0.6"/>
<polygon points="546.0,296.0 552.0,294.0 555.0,298.0 551.0,302.0 547.0,300.0" fill="#fff" stroke="#000" stroke-width="0.6"/>
<polygon points="560.0,222.0 563.0,221.0 565.0,226.0 562.0,228.0" fill="#fff" stroke="#000" stroke-width="0.6"/>
<polygon points="575.0,225.0 579.0,224.0 581.0,230.0 579.0,238.0 576.0,236.0 575.0,230.0" fill="#fff" stroke="#000" stroke-width="0.6"/>
<polygon points="584.0,213.0 588.0,211.0 590.0,216.0 588.0,221.0 585.0,219.0" fill="#fff" stroke="#000" stroke-width="0.6"/>
<polygon points="223.8,256.4 226.0,258.0 229.0,270.0 231.3,285.0 231.0,292.8 227.0,292.0 225.0,280.0 224.0,268.0" fill="#fff" stroke="#000" stroke-width="0.6"/>
<polygon points="205.6,282.0 210.0,280.0 214.2,284.0 213.0,289.6 208.0,289.0 206.0,286.0" fill="#fff" stroke="#000" stroke-width="0.6"/>
<polygon points="248.5,266.0 251.0,268.0 253.8,276.0 253.0,282.1 250.0,281.0 249.0,274.0" fill="#fff" stroke="#000" stroke-width="0.6"/>
<polygon points="259.0,256.0 262.0,255.0 264.0,258.0 263.0,268.0 262.0,275.0 259.0,276.0 258.0,270.0 260.0,263.0" fill="#fff" stroke="#000" stroke-width="0.6"/>
<polygon points="138.5,291.0 141.0,290.5 141.5,292.5 139.0,293.0" fill="#fff" stroke="#000" stroke-width="0.6"/>
<polygon points="236.0,325.0 240.0,323.0 242.0,328.0 238.0,330.0" fill="#fff" stroke="#000" stroke-width="0.6"/>
<polygon points="149.0,549.0 153.0,547.0 156.0,550.0 152.0,552.0" fill="#fff" stroke="#000" stroke-width="0.6"/>
<polygon points="148.0,552.0 152.0,553.0 150.0,555.0" fill="#fff" stroke="#000" stroke-width="0.6"/>
<polygon points="154.0,706.0 160.0,704.0 167.0,706.0 164.0,710.0 157.0,711.0" fill="#fff" stroke="#000" stroke-width="0.6"/>
<polygon points="323.0,699.0 330.0,698.0 332.0,700.0 326.0,701.0" fill="#fff" stroke="#000" stroke-width="0.6"/>
<g fill="none" stroke="#000" stroke-width="0.7">
<polyline points="671.8,182.0 665.0,193.0 658.8,204.0"/>
<polyline points="634.3,239.9 640.8,256.2 650.6,269.3 658.8,282.3 668.6,292.1"/>
<polyline points="416.0,200.9 425.0,203.5 435.0,206.5 446.4,210.2"/>
<polyline points="413.5,172.5 421.0,178.0 429.0,182.5"/>
</g>
<g fill="none" stroke="#000" stroke-width="0.75">
<polyline points="146.2,75.7 148.4,77.4 150.1,81.9 151.3,85.3 153.0,87.0 156.9,88.1 158.0,90.9 157.5,94.3 158.0,97.6 161.4,102.7 165.9,105.0 168.7,106.7 170.4,111.2 172.7,115.7 173.2,118.5 176.0,121.3 179.4,125.2 182.8,128.1 187.3,130.3 190.7,133.7 192.4,139.3 193.5,147.2 195.2,151.7 197.4,156.2 199.7,161.8 201.4,166.3 201.4,170.8 200.4,175.4 200.4,182.2 202.4,186.2 200.4,191.6 198.4,198.4 195.0,202.4 193.0,206.5 194.3,210.5 192.3,217.3 191.6,224.1 192.3,232.2 193.6,240.3 193.6,245.7 195.7,251.1 196.4,261.9 192.3,263.2 190.3,265.3 193.6,267.3 197.0,272.7 199.1,278.1"/>
<polyline points="199.1,278.1 201.1,272.7 203.8,270.7 213.2,272.7 218.6,271.4 221.4,265.9 219.3,261.9 218.0,257.8 220.0,253.8 224.1,249.7 226.8,247.7 230.8,246.4 233.5,243.6 236.2,240.3 235.5,233.5 236.2,230.1 242.2,228.1 248.5,226.3 249.4,221.7 247.6,218.1 252.1,210.9 253.0,207.3 249.4,202.8 247.6,196.5 247.6,189.3 246.7,183.9 249.4,181.2 256.6,178.5 263.8,175.8 264.7,180.3 264.7,189.3 265.6,192.0 268.3,190.2 270.1,183.9 272.8,182.1 273.7,185.7 275.5,187.5 279.1,183.0 281.8,181.2 284.5,185.7 289.1,188.4 290.9,191.1 293.6,189.3 294.5,186.6 298.1,183.0 300.8,185.7 304.4,192.0 307.1,193.8 310.7,191.1 321.5,191.1 324.2,191.1"/>
<polyline points="213.2,272.7 213.5,279.0"/>
<polyline points="199.1,278.1 205.6,286.4 214.2,290.7 227.0,296.0 237.7,298.2 236.7,292.8 244.2,289.6 252.7,286.4 260.0,283.2 264.2,280.7 274.3,279.0 287.8,280.7 294.6,289.1 298.0,297.6"/>
<polyline points="260.2,76.7 259.3,81.2 262.9,88.4 266.5,89.3 271.0,93.8 273.7,97.4 276.4,102.8 279.1,104.6 282.7,102.8 283.6,100.1 287.3,100.1 289.1,103.7 289.1,108.2 288.2,111.8 288.2,117.2 286.4,120.8 284.5,121.7 286.4,124.5 289.1,124.5 290.9,128.1 289.1,131.7 288.2,137.1 292.7,139.8 298.1,143.4 301.7,145.2 307.1,146.1 310.7,149.7 312.5,153.3 313.4,160.5 312.5,167.7 313.4,172.2 310.7,174.0 308.9,176.7 311.6,180.3 316.1,183.0 318.8,186.6 323.3,188.4 324.2,190.2"/>
<polyline points="122.1,397.3 132.8,397.7 139.3,399.9 145.7,407.4 152.1,409.5 162.8,407.4 167.1,413.8 173.5,412.7 182.1,410.6 186.4,423.4 194.9,427.7 205.6,430.9 214.2,433.0 222.8,433.7"/>
<polyline points="122.0,581.1 127.2,580.2 136.3,579.3 143.5,582.9 148.9,588.4 156.2,594.7 161.6,592.0 170.7,590.2 181.5,589.3 186.9,590.2"/>
</g>
<g stroke="#b0b0b0" stroke-opacity="0.45" stroke-width="0.8" stroke-dasharray="2.5,1.2" fill="none">
<line x1="185.7" y1="75" x2="185.7" y2="718"/>
<line x1="250.7" y1="75" x2="250.7" y2="718"/>
<line x1="315.6" y1="75" x2="315.6" y2="718"/>
<line x1="380.6" y1="75" x2="380.6" y2="718"/>
<line x1="445.6" y1="75" x2="445.6" y2="718"/>
<line x1="510.6" y1="75" x2="510.6" y2="718"/>
<line x1="575.5" y1="75" x2="575.5" y2="718"/>
<line x1="640.5" y1="75" x2="640.5" y2="718"/>
<line x1="705.5" y1="75" x2="705.5" y2="718"/>
<line x1="121" y1="675.2" x2="709" y2="675.2"/>
<line x1="121" y1="588.4" x2="709" y2="588.4"/>
<line x1="121" y1="500.3" x2="709" y2="500.3"/>
<line x1="121" y1="410.7" x2="709" y2="410.7"/>
<line x1="121" y1="319.6" x2="709" y2="319.6"/>
<line x1="121" y1="226.9" x2="709" y2="226.9"/>
<line x1="121" y1="132.5" x2="709" y2="132.5"/>
</g>
<g clip-path="url(#sc)"><path fill="none" stroke="#000" stroke-width="1.2" stroke-linecap="butt" d="M170.8,547.7L162.6,568.9M164.1,565.0L159.3,564.6M170.8,686.9L165.7,709.1M165.7,709.1L155.6,710.2M166.3,706.3L161.5,706.7M196.8,476.8L183.8,495.5M183.8,495.5L173.9,492.8M196.8,512.3L183.9,531.2M183.9,531.2L174.1,528.6M185.5,528.8L181.0,527.4M196.8,547.7L185.4,567.4M185.4,567.4L175.4,565.6M186.8,565.0L182.1,563.9M196.8,582.8L194.3,605.5M194.3,605.5L184.5,607.9M194.6,602.6L190.0,603.6M196.8,617.7L192.8,640.2M192.8,640.2L182.8,641.9M196.8,686.9L190.9,708.9M190.9,708.9L180.7,709.7M191.6,706.1L186.8,706.3M222.8,476.8L209.7,495.4M209.7,495.4L199.9,492.7M211.3,493.1L206.8,491.6M222.8,512.3L209.2,530.7M209.2,530.7L199.5,527.8M210.9,528.4L201.2,525.5M222.8,547.7L208.1,565.2M208.1,565.2L198.6,561.6M210.0,563.0L200.4,559.5M222.8,582.8L212.1,602.9M212.1,602.9L202.0,601.5M213.4,600.4L203.4,599.0M222.8,617.7L216.6,639.7M216.6,639.7L206.5,640.4M217.4,636.9L212.6,637.1M222.8,686.9L215.7,708.5M215.7,708.5L205.6,708.8M216.6,705.8L211.8,705.8M248.8,368.6L235.7,387.3M235.7,387.3L225.9,384.6M237.3,385.0L227.5,382.3M248.8,404.9L235.4,423.3M235.4,423.3L225.6,420.5M237.0,421.0L227.3,418.2M238.7,418.7L234.2,417.2M248.8,441.0L235.2,459.3M235.2,459.3L225.5,456.4M236.9,457.0L227.2,454.1M248.8,476.8L235.6,495.4M235.6,495.4L225.8,492.6M237.2,493.0L227.4,490.3M248.8,512.3L235.3,530.7M235.3,530.7L225.5,527.8M237.0,528.4L227.2,525.5M248.8,547.7L234.4,565.4M234.4,565.4L224.8,562.1M236.2,563.2L226.6,559.9M248.8,582.8L238.4,603.1M238.4,603.1L228.3,601.8M239.7,600.6L229.6,599.3M248.8,617.7L239.4,638.5M239.4,638.5L229.3,637.7M240.6,635.9L230.4,635.1M248.8,652.4L244.7,674.8M248.8,686.9L241.0,708.3M241.0,708.3L230.8,708.2M274.7,332.1L261.7,350.8M261.7,350.8L251.9,348.1M274.7,368.6L261.5,387.2M261.5,387.2L251.7,384.4M263.1,384.8L253.4,382.0M264.8,382.5L260.3,381.0M274.7,404.9L261.2,423.2M261.2,423.2L251.4,420.3M262.9,420.9L253.1,418.0M264.6,418.7L260.1,417.1M274.7,441.0L261.1,459.2M261.1,459.2L251.3,456.2M262.8,456.9L253.1,453.9M264.5,454.6L260.0,453.0M274.7,476.8L261.4,495.3M261.4,495.3L251.7,492.5M263.1,493.0L253.3,490.2M274.7,512.3L261.3,530.7M261.3,530.7L251.5,527.9M263.0,528.4L253.2,525.6M274.7,547.7L260.7,565.7M260.7,565.7L251.1,562.5M262.5,563.4L252.8,560.2M264.2,561.2L259.8,559.5M274.7,582.8L262.7,602.1M262.7,602.1L252.7,600.0M264.2,599.7L254.2,597.5M274.7,617.7L262.9,637.2M262.9,637.2L252.9,635.1M264.3,634.7L254.4,632.6M274.7,652.4L272.6,675.1M273.0,670.8L268.3,671.8M300.7,295.3L288.3,314.4M288.3,314.4L278.4,312.0M289.9,312.0L285.3,310.7M300.7,332.1L287.7,350.7M287.7,350.7L277.9,348.1M289.3,348.4L279.5,345.7M300.7,368.6L287.3,387.0M287.3,387.0L277.6,384.2M289.0,384.7L279.2,381.9M290.7,382.4L286.1,380.9M300.7,404.9L287.0,423.1M287.0,423.1L277.3,420.1M288.7,420.8L279.0,417.8M290.4,418.6L285.9,416.9M300.7,441.0L287.0,459.2M287.0,459.2L277.3,456.2M288.8,456.9L279.0,453.9M290.5,454.6L286.0,453.0M300.7,476.8L287.3,495.2M287.3,495.2L277.6,492.3M289.0,492.9L279.3,490.0M290.7,490.6L286.2,489.1M300.7,512.3L287.3,530.8M287.3,530.8L277.6,527.9M289.0,528.5L279.3,525.6M290.7,526.2L286.2,524.6M300.7,547.7L287.4,566.1M287.4,566.1L277.6,563.3M289.0,563.8L279.3,561.0M300.7,582.8L288.7,602.1M288.7,602.1L278.7,600.0M290.2,599.7L280.2,597.5M300.7,617.7L289.0,637.3M289.0,637.3L279.1,635.3M290.5,634.8L280.5,632.8M300.7,652.4L300.6,675.2M300.6,670.9L296.1,672.3M326.7,258.2L314.5,277.4M314.5,277.4L304.6,275.2M316.0,275.0L306.1,272.8M317.5,272.6L312.9,271.4M326.7,295.3L313.9,314.2M313.9,314.2L304.1,311.6M315.5,311.8L305.7,309.2M317.1,309.4L312.6,308.1M326.7,332.1L313.3,350.5M313.3,350.5L303.5,347.6M315.0,348.2L305.2,345.3M316.6,345.9L312.1,344.4M326.7,368.6L312.7,386.6M312.7,386.6L303.0,383.4M314.4,384.3L304.8,381.1M316.2,382.1L311.7,380.4M326.7,404.9L312.4,422.6M312.4,422.6L302.8,419.2M314.2,420.4L304.6,417.0M316.0,418.2L311.5,416.4M326.7,441.0L312.4,458.7M312.4,458.7L302.8,455.3M314.2,456.5L304.6,453.1M316.0,454.2L311.5,452.5M326.7,476.8L312.8,494.9M312.8,494.9L303.2,491.7M314.6,492.6L304.9,489.5M316.3,490.3L311.8,488.7M326.7,512.3L313.2,530.7M313.2,530.7L303.4,527.7M314.9,528.4L305.1,525.4M326.7,547.7L313.5,566.3M313.5,566.3L303.7,563.5M315.2,563.9L305.4,561.2M326.7,582.8L314.7,602.1M314.7,602.1L304.7,600.0M316.2,599.7L306.2,597.6M326.7,617.7L319.5,639.3M319.5,639.3L309.3,639.5M320.4,636.6L315.6,636.5M326.7,652.4L326.6,675.2M326.6,675.2L317.0,678.6M352.7,220.9L336.9,237.3M336.9,237.3L327.6,233.1M338.8,235.2L329.6,231.0M352.7,258.2L338.5,276.0M338.5,276.0L328.9,272.8M340.3,273.8L330.7,270.5M342.1,271.6L337.6,269.9M352.7,295.3L338.3,313.0M338.3,313.0L328.7,309.6M340.1,310.8L330.5,307.4M341.9,308.5L337.5,306.8M352.7,332.1L337.7,349.3M337.7,349.3L328.3,345.5M339.6,347.1L330.1,343.4M341.5,345.0L337.1,343.0M352.7,368.6L338.0,386.1M338.0,386.1L328.5,382.5M339.9,383.9L330.3,380.3M341.7,381.7L337.3,379.9M352.7,404.9L337.7,422.1M337.7,422.1L328.3,418.4M339.6,419.9L330.1,416.2M341.5,417.8L337.1,415.9M352.7,441.0L337.8,458.2M337.8,458.2L328.3,454.4M339.6,456.0L330.2,452.3M341.5,453.9L337.1,451.9M352.7,476.8L338.4,494.5M338.4,494.5L328.8,491.1M340.2,492.3L330.6,488.9M342.0,490.1L337.5,488.3M352.7,512.3L339.0,530.6M339.0,530.6L329.3,527.5M340.7,528.3L331.0,525.2M352.7,547.7L339.6,566.4M339.6,566.4L329.8,563.7M341.3,564.0L331.5,561.3M352.7,582.8L340.6,602.1M340.6,602.1L330.7,599.9M342.1,599.7L332.2,597.5M352.7,617.7L341.4,637.5M341.4,637.5L331.4,635.7M342.8,635.0L338.1,634.0M352.7,652.4L352.5,675.2M352.5,675.2L342.9,678.5M378.7,183.3L363.2,200.0M363.2,200.0L353.8,196.0M365.1,197.9L355.8,193.9M367.0,195.8L362.7,193.7M378.7,220.9L362.3,236.7M362.3,236.7L353.2,232.2M364.3,234.7L355.2,230.2M366.4,232.8L362.2,230.5M378.7,258.2L363.4,275.1M363.4,275.1L354.0,271.2M365.3,273.0L355.9,269.1M367.2,270.9L362.9,268.9M378.7,295.3L363.1,311.9M363.1,311.9L353.8,307.9M365.1,309.8L355.7,305.8M367.0,307.8L362.7,305.7M378.7,332.1L362.8,348.4M362.8,348.4L353.6,344.2M364.8,346.4L355.6,342.2M366.8,344.3L362.5,342.2M378.7,368.6L363.0,385.1M363.0,385.1L353.7,381.0M365.0,383.1L355.7,378.9M366.9,381.0L362.6,378.9M378.7,404.9L363.0,421.4M363.0,421.4L353.7,417.3M365.0,419.4L355.7,415.2M366.9,417.3L362.6,415.2M378.7,441.0L363.1,457.5M363.1,457.5L353.7,453.4M365.0,455.5L355.7,451.4M367.0,453.4L362.7,451.3M378.7,476.8L364.0,494.2M364.0,494.2L354.5,490.7M365.9,492.0L356.3,488.5M367.7,489.9L363.3,488.0M378.7,512.3L364.5,530.2M364.5,530.2L354.9,526.9M366.3,528.0L356.7,524.7M378.7,547.7L366.3,566.8M366.3,566.8L356.4,564.5M367.8,564.4L357.9,562.1M378.7,582.8L365.9,601.7M365.9,601.7L356.1,599.1M367.5,599.3L362.9,597.9M378.7,617.7L367.5,637.6M367.5,637.6L357.5,635.8M368.9,635.1L364.2,634.1M378.7,652.4L378.5,675.2M378.5,675.2L368.9,678.5M404.7,183.3L389.7,200.5M389.7,200.5L380.3,196.8M391.6,198.4L382.1,194.7M393.5,196.2L389.1,194.3M404.7,220.9L387.5,235.9M387.5,235.9L378.6,230.9M389.6,234.0L380.8,229.0M391.8,232.1L387.7,229.6M404.7,258.2L387.5,273.2M387.5,273.2L378.6,268.2M389.6,271.3L380.8,266.3M391.8,269.4L387.7,266.9M404.7,295.3L387.5,310.2M387.5,310.2L378.6,305.2M389.6,308.4L380.8,303.4M391.8,306.5L387.7,304.0M404.7,332.1L387.2,346.7M387.2,346.7L378.5,341.6M389.4,344.9L380.6,339.8M391.6,343.1L387.6,340.5M404.7,368.6L388.0,384.2M388.0,384.2L379.0,379.5M390.1,382.2L381.1,377.5M392.2,380.3L388.0,377.9M404.7,404.9L388.3,420.7M388.3,420.7L379.2,416.2M390.3,418.8L381.2,414.2M392.4,416.8L388.2,414.5M404.7,441.0L388.4,456.9M388.4,456.9L379.2,452.4M390.4,454.9L381.3,450.4M392.5,452.9L388.3,450.6M404.7,476.8L389.2,493.5M389.2,493.5L379.9,489.5M391.1,491.4L381.8,487.4M393.1,489.3L388.8,487.3M404.7,512.3L390.0,529.8M390.0,529.8L380.5,526.3M391.9,527.6L382.3,524.1M404.7,547.7L391.5,566.2M391.5,566.2L381.7,563.5M393.1,563.9L383.3,561.2M404.7,582.8L391.8,601.6M391.8,601.6L382.0,599.1M393.5,599.3L388.9,597.9M404.7,617.7L395.2,638.4M395.2,638.4L385.0,637.5M404.7,652.4L404.7,675.2M404.7,670.9L400.1,672.3M430.7,183.3L416.4,201.1M416.4,201.1L406.8,197.7M418.2,198.8L413.7,197.1M430.7,220.9L413.2,235.6M413.2,235.6L404.4,230.4M415.4,233.7L406.6,228.6M417.6,231.9L413.6,229.3M430.7,258.2L413.0,272.6M413.0,272.6L404.3,267.3M415.2,270.8L406.5,265.5M417.4,269.0L413.4,266.3M430.7,295.3L413.2,309.9M413.2,309.9L404.4,304.8M415.4,308.1L406.6,303.0M417.6,306.3L413.6,303.7M430.7,332.1L413.0,346.4M413.0,346.4L404.3,341.1M415.2,344.6L406.5,339.3M417.4,342.8L413.4,340.2M430.7,368.6L413.7,383.8M413.7,383.8L404.8,379.0M415.8,381.9L406.9,377.1M417.9,380.0L413.8,377.6M430.7,404.9L413.9,420.3M413.9,420.3L404.9,415.6M416.0,418.4L407.0,413.7M418.1,416.5L414.0,414.1M430.7,441.0L414.7,457.2M414.7,457.2L405.5,453.0M416.7,455.2L407.5,450.9M418.7,453.2L414.5,451.0M430.7,476.8L415.2,493.5M415.2,493.5L405.8,489.5M417.1,491.4L407.8,487.4M419.1,489.3L414.7,487.2M430.7,512.3L415.6,529.5M415.6,529.5L406.2,525.7M417.5,527.3L408.1,523.6M430.7,547.7L416.7,565.7M416.7,565.7L407.1,562.5M418.5,563.4L408.8,560.3M430.7,582.8L427.0,605.3M427.0,605.3L417.0,607.2M427.5,602.5L422.8,603.2M430.7,617.7L430.6,640.5M430.6,640.5L421.1,643.9M456.7,220.9L439.0,235.2M439.0,235.2L430.3,230.0M441.2,233.5L432.5,228.2M456.7,258.2L438.7,272.3M438.7,272.3L430.1,266.8M441.0,270.5L432.4,265.1M443.2,268.8L439.3,266.0M456.7,295.3L439.2,309.9M439.2,309.9L430.4,304.8M441.4,308.1L432.6,303.0M443.6,306.3L439.6,303.7M456.7,332.1L438.7,346.1M438.7,346.1L430.1,340.7M441.0,344.4L432.4,338.9M443.2,342.6L439.3,339.9M456.7,368.6L439.4,383.5M439.4,383.5L430.6,378.5M441.6,381.6L432.7,376.6M443.7,379.8L439.7,377.2M456.7,404.9L439.5,419.9M439.5,419.9L430.6,415.0M441.7,418.0L432.8,413.1M443.8,416.2L439.7,413.7M456.7,441.0L440.1,456.7M440.1,456.7L431.1,452.1M442.2,454.7L433.1,450.1M444.3,452.7L440.1,450.4M456.7,476.8L441.2,493.5M441.2,493.5L431.8,489.4M443.1,491.4L433.8,487.4M456.7,512.3L441.6,529.5M441.6,529.5L432.2,525.7M443.5,527.3L434.1,523.6M456.7,547.7L444.5,567.0M444.5,567.0L434.6,564.7M446.0,564.5L441.4,563.3M456.7,582.8L452.0,605.1M452.0,605.1L441.9,606.5M452.6,602.3L447.8,602.8M456.7,617.7L450.9,639.8M452.0,635.6L447.2,635.8M482.7,220.9L464.8,235.0M464.8,235.0L456.2,229.7M467.0,233.3L458.4,227.9M482.7,258.2L464.7,272.2M464.7,272.2L456.1,266.8M466.9,270.5L458.4,265.1M469.2,268.7L465.3,266.0M482.7,295.3L465.2,309.9M465.2,309.9L456.4,304.8M467.4,308.1L458.6,303.0M469.6,306.3L465.5,303.7M482.7,332.1L465.0,346.4M465.0,346.4L456.3,341.1M467.2,344.6L458.5,339.3M469.4,342.8L465.4,340.2M482.7,368.6L465.1,383.1M465.1,383.1L456.4,377.9M467.3,381.3L458.6,376.1M469.5,379.5L465.5,376.9M482.7,404.9L465.2,419.5M465.2,419.5L456.4,414.3M467.3,417.7L458.6,412.5M469.5,415.9L465.5,413.3M482.7,441.0L465.6,456.1M465.6,456.1L456.7,451.2M467.7,454.2L458.8,449.3M469.9,452.3L465.8,449.8M482.7,476.8L466.9,493.2M466.9,493.2L457.6,489.1M468.9,491.2L459.6,487.0M482.7,512.3L468.3,530.0M468.3,530.0L458.7,526.7M470.1,527.8L460.5,524.5M482.7,547.7L468.3,565.4M468.3,565.4L458.7,562.0M470.1,563.2L465.7,561.4M482.7,582.8L468.7,600.8M468.7,600.8L459.0,597.7M508.7,220.9L490.2,234.3M490.2,234.3L481.8,228.6M492.5,232.6L484.1,226.9M508.7,295.3L491.0,309.7M491.0,309.7L482.3,304.5M493.2,307.9L484.5,302.7M495.4,306.1L491.4,303.5M508.7,332.1L490.9,346.4M490.9,346.4L482.3,341.1M493.1,344.6L484.5,339.3M495.4,342.8L491.4,340.2M508.7,368.6L491.1,383.1M491.1,383.1L482.3,377.9M493.3,381.3L484.5,376.1M495.5,379.5L491.5,376.9M508.7,404.9L491.0,419.4M491.0,419.4L482.3,414.2M493.2,417.6L484.5,412.3M495.4,415.8L491.5,413.1M508.7,441.0L491.6,456.1M491.6,456.1L482.7,451.2M493.7,454.2L484.8,449.3M508.7,476.8L492.8,493.1M492.8,493.1L483.5,488.9M494.8,491.1L485.5,486.9M508.7,512.3L494.0,529.8M494.0,529.8L484.4,526.2M495.8,527.6L486.3,524.0M508.7,547.7L494.8,565.8M494.8,565.8L485.1,562.6M496.5,563.5L492.0,561.9M508.7,582.8L510.6,605.5M510.3,601.3L505.8,603.1M534.6,220.9L516.2,234.4M516.2,234.4L507.8,228.6M518.5,232.7L514.7,229.8M534.6,332.1L516.7,346.1M516.7,346.1L508.1,340.7M518.9,344.3L510.3,338.9M521.2,342.6L517.2,339.9M534.6,368.6L517.1,383.1M517.1,383.1L508.3,377.9M519.3,381.3L510.5,376.1M521.5,379.5L517.5,376.9M534.6,404.9L516.9,419.3M516.9,419.3L508.2,414.0M519.1,417.5L510.5,412.2M521.4,415.7L517.4,413.0M534.6,441.0L517.6,456.1M517.6,456.1L508.7,451.2M519.7,454.2L510.8,449.3M534.6,476.8L518.8,493.2M518.8,493.2L509.6,489.0M520.8,491.1L511.5,487.0M534.6,512.3L519.1,529.0M519.1,529.0L509.8,525.0M521.1,526.9L516.7,524.9M534.6,547.7L520.7,565.7M520.7,565.7L511.0,562.6M534.6,582.8L536.1,605.6M535.8,601.3L531.4,603.0M560.6,404.9L542.1,418.2M542.1,418.2L533.7,412.3M544.4,416.5L536.1,410.7M546.7,414.8L542.9,412.0M560.6,441.0L542.5,454.7M542.5,454.7L534.0,449.1M544.7,453.0L536.2,447.4M560.6,476.8L544.7,493.0M544.7,493.0L535.4,488.8M546.7,491.0L537.4,486.8M560.6,512.3L546.2,530.0M546.2,530.0L536.6,526.6M548.0,527.8L543.6,526.0M560.6,547.7L551.2,568.4M551.2,568.4L541.1,567.6M560.6,582.8L555.7,605.1M556.7,600.9L551.9,601.3M586.6,404.9L568.4,418.6M568.4,418.6L559.9,413.0M570.7,416.9L562.2,411.3M573.0,415.2L569.1,412.4M586.6,441.0L568.7,455.0M568.7,455.0L560.1,449.6M570.9,453.3L562.3,447.8M586.6,476.8L570.6,492.9M570.6,492.9L561.4,488.6M572.6,490.9L563.4,486.6M586.6,512.3L575.2,532.1M575.2,532.1L565.2,530.3M586.6,547.7L593.0,569.6M591.8,565.5L587.8,568.1M586.6,582.8L594.4,604.3M592.9,600.2L589.1,603.1M612.6,368.6L593.0,380.2M593.0,380.2L585.2,373.7M595.4,378.8L587.6,372.3M597.9,377.3L594.3,374.1M612.6,404.9L593.4,417.3M593.4,417.3L585.4,411.1M595.8,415.7L587.8,409.5M598.2,414.2L594.6,411.1M612.6,441.0L595.2,455.6M595.2,455.6L586.4,450.5M597.4,453.8L588.6,448.7M612.6,476.8L596.6,493.0M596.6,493.0L587.4,488.7M598.6,491.0L589.4,486.7M612.6,512.3L609.1,534.9M609.1,534.9L599.1,536.8M612.6,547.7L618.5,569.7M618.5,569.7L610.1,575.5M612.6,582.8L615.2,605.5M614.7,601.2L610.3,603.1M638.6,368.6L620.5,382.4M620.5,382.4L612.0,376.9M622.7,380.7L614.2,375.2M625.0,379.0L621.1,376.2M638.6,404.9L621.0,419.4M621.0,419.4L612.3,414.2M623.2,417.6L614.5,412.4M625.4,415.8L621.4,413.2M638.6,441.0L621.8,456.4M621.8,456.4L612.8,451.6M623.9,454.5L614.9,449.7M638.6,476.8L622.6,493.0M622.6,493.0L613.4,488.8M624.6,491.0L615.4,486.7M638.6,512.3L636.6,535.1M636.6,535.1L626.8,537.6M638.6,547.7L642.6,570.1M642.6,570.1L633.7,575.2M664.6,220.9L658.2,242.8M658.2,242.8L648.1,243.4M659.0,240.1L654.3,240.2M664.6,258.2L658.2,280.1M658.2,280.1L648.1,280.7M664.6,295.3L651.6,314.0M654.0,310.5L649.5,309.1M664.6,332.1L646.4,345.8M646.4,345.8L637.9,340.2M648.7,344.1L640.2,338.5M650.9,342.4L647.1,339.6M664.6,368.6L647.6,383.8M647.6,383.8L638.7,379.0M649.7,381.9L640.8,377.1M651.9,380.0L647.8,377.6M664.6,404.9L647.8,420.3M647.8,420.3L638.8,415.6M649.9,418.4L640.9,413.7M652.0,416.5L647.9,414.1M664.6,441.0L648.8,457.4M648.8,457.4L639.6,453.3M650.8,455.4L641.5,451.2M664.6,476.8L651.6,495.5M651.6,495.5L641.8,492.8M653.2,493.2L643.4,490.5M664.6,512.3L661.5,534.9M661.5,534.9L651.5,537.0M664.6,547.7L667.7,570.3M667.7,570.3L658.7,575.0M664.6,582.8L667.8,605.4M667.8,605.4L658.8,610.1M690.6,183.3L683.9,205.1M683.9,205.1L673.8,205.6M684.8,202.4L680.0,202.4M690.6,220.9L684.3,242.8M684.3,242.8L674.2,243.5M685.1,240.1L680.3,240.2M690.6,258.2L684.2,280.1M684.2,280.1L674.1,280.7M690.6,332.1L672.6,346.1M672.6,346.1L664.0,340.7M674.9,344.4L666.3,338.9M677.1,342.6L673.2,339.9M690.6,368.6L674.4,384.7M674.4,384.7L665.2,380.3M676.4,382.7L667.3,378.3M678.5,380.7L674.2,378.4M690.6,404.9L674.6,421.2M674.6,421.2L665.4,416.9M676.6,419.2L667.4,414.9M678.6,417.1L674.4,414.9M690.6,441.0L675.1,457.7M675.1,457.7L665.8,453.7M677.0,455.6L667.7,451.6M690.6,476.8L681.5,497.7M681.5,497.7L671.4,497.0M682.7,495.1L677.9,494.6M690.6,512.3L687.0,534.9M687.0,534.9L677.1,536.8M687.5,532.0L682.8,532.7M690.6,547.7L692.6,570.4M692.6,570.4L683.4,574.7M690.6,582.8L697.2,604.6M697.2,604.6L689.0,610.7"/></g>
</g>
<rect x="121" y="75" width="588" height="643" fill="none" stroke="#000" stroke-width="2"/>
<text x="120.2" y="769" font-size="8.6" textLength="131.2" lengthAdjust="spacing">©Meteoroloji Genel Mudurlugu</text>
<rect x="121.00" y="782.2" width="25.75" height="32.0" fill="#0000ff"/>
<rect x="146.45" y="782.2" width="25.75" height="32.0" fill="#0033ff"/>
<rect x="171.90" y="782.2" width="25.75" height="32.0" fill="#0066ff"/>
<rect x="197.35" y="782.2" width="25.75" height="32.0" fill="#0099ff"/>
<rect x="222.80" y="782.2" width="25.75" height="32.0" fill="#00ccff"/>
<rect x="248.25" y="782.2" width="25.75" height="32.0" fill="#00ffff"/>
<rect x="273.70" y="782.2" width="25.75" height="32.0" fill="#00ffcc"/>
<rect x="299.15" y="782.2" width="25.75" height="32.0" fill="#00ff99"/>
<rect x="324.60" y="782.2" width="25.75" height="32.0" fill="#00ff66"/>
<rect x="350.05" y="782.2" width="25.75" height="32.0" fill="#00ff33"/>
<rect x="375.50" y="782.2" width="25.75" height="32.0" fill="#00ff00"/>
<rect x="400.95" y="782.2" width="25.75" height="32.0" fill="#33ff00"/>
<rect x="426.40" y="782.2" width="25.75" height="32.0" fill="#66ff00"/>
<rect x="451.85" y="782.2" width="25.75" height="32.0" fill="#99ff00"/>
<rect x="477.30" y="782.2" width="25.75" height="32.0" fill="#ccff00"/>
<rect x="502.75" y="782.2" width="25.75" height="32.0" fill="#ffff00"/>
<rect x="528.20" y="782.2" width="25.75" height="32.0" fill="#ffcc00"/>
<rect x="553.65" y="782.2" width="25.75" height="32.0" fill="#ff9900"/>
<rect x="579.10" y="782.2" width="25.75" height="32.0" fill="#ff6600"/>
<rect x="604.55" y="782.2" width="25.75" height="32.0" fill="#ff3300"/>
<rect x="630.00" y="782.2" width="25.75" height="32.0" fill="#ff0000"/>
<rect x="655.45" y="782.2" width="25.75" height="32.0" fill="#ff66ff"/>
<polygon points="680.90,782.2 709.40,798.2 680.90,814.2" fill="#ff66ff"/>
<polygon points="121,782.2 680.90,782.2 709.40,798.2 680.90,814.2 121,814.2" fill="none" stroke="#000" stroke-width="2"/>
<line x1="121.00" y1="814.2" x2="121.00" y2="823.7" stroke="#000" stroke-width="1.6"/>
<text x="121.00" y="841.8" font-size="8.5" text-anchor="middle">0</text>
<line x1="146.45" y1="814.2" x2="146.45" y2="823.7" stroke="#000" stroke-width="1.6"/>
<text x="146.45" y="841.8" font-size="8.5" text-anchor="middle">2</text>
<line x1="171.90" y1="814.2" x2="171.90" y2="823.7" stroke="#000" stroke-width="1.6"/>
<text x="171.90" y="841.8" font-size="8.5" text-anchor="middle">4</text>
<line x1="197.35" y1="814.2" x2="197.35" y2="823.7" stroke="#000" stroke-width="1.6"/>
<text x="197.35" y="841.8" font-size="8.5" text-anchor="middle">6</text>
<line x1="222.80" y1="814.2" x2="222.80" y2="823.7" stroke="#000" stroke-width="1.6"/>
<text x="222.80" y="841.8" font-size="8.5" text-anchor="middle">8</text>
<line x1="248.25" y1="814.2" x2="248.25" y2="823.7" stroke="#000" stroke-width="1.6"/>
<text x="248.25" y="841.8" font-size="8.5" text-anchor="middle">10</text>
<line x1="273.70" y1="814.2" x2="273.70" y2="823.7" stroke="#000" stroke-width="1.6"/>
<text x="273.70" y="841.8" font-size="8.5" text-anchor="middle">12</text>
<line x1="299.15" y1="814.2" x2="299.15" y2="823.7" stroke="#000" stroke-width="1.6"/>
<text x="299.15" y="841.8" font-size="8.5" text-anchor="middle">14</text>
<line x1="324.60" y1="814.2" x2="324.60" y2="823.7" stroke="#000" stroke-width="1.6"/>
<text x="324.60" y="841.8" font-size="8.5" text-anchor="middle">16</text>
<line x1="350.05" y1="814.2" x2="350.05" y2="823.7" stroke="#000" stroke-width="1.6"/>
<text x="350.05" y="841.8" font-size="8.5" text-anchor="middle">18</text>
<line x1="375.50" y1="814.2" x2="375.50" y2="823.7" stroke="#000" stroke-width="1.6"/>
<text x="375.50" y="841.8" font-size="8.5" text-anchor="middle">20</text>
<line x1="400.95" y1="814.2" x2="400.95" y2="823.7" stroke="#000" stroke-width="1.6"/>
<text x="400.95" y="841.8" font-size="8.5" text-anchor="middle">22</text>
<line x1="426.40" y1="814.2" x2="426.40" y2="823.7" stroke="#000" stroke-width="1.6"/>
<text x="426.40" y="841.8" font-size="8.5" text-anchor="middle">24</text>
<line x1="451.85" y1="814.2" x2="451.85" y2="823.7" stroke="#000" stroke-width="1.6"/>
<text x="451.85" y="841.8" font-size="8.5" text-anchor="middle">26</text>
<line x1="477.30" y1="814.2" x2="477.30" y2="823.7" stroke="#000" stroke-width="1.6"/>
<text x="477.30" y="841.8" font-size="8.5" text-anchor="middle">28</text>
<line x1="502.75" y1="814.2" x2="502.75" y2="823.7" stroke="#000" stroke-width="1.6"/>
<text x="502.75" y="841.8" font-size="8.5" text-anchor="middle">30</text>
<line x1="528.20" y1="814.2" x2="528.20" y2="823.7" stroke="#000" stroke-width="1.6"/>
<text x="528.20" y="841.8" font-size="8.5" text-anchor="middle">32</text>
<line x1="553.65" y1="814.2" x2="553.65" y2="823.7" stroke="#000" stroke-width="1.6"/>
<text x="553.65" y="841.8" font-size="8.5" text-anchor="middle">34</text>
<line x1="579.10" y1="814.2" x2="579.10" y2="823.7" stroke="#000" stroke-width="1.6"/>
<text x="579.10" y="841.8" font-size="8.5" text-anchor="middle">36</text>
<line x1="604.55" y1="814.2" x2="604.55" y2="823.7" stroke="#000" stroke-width="1.6"/>
<text x="604.55" y="841.8" font-size="8.5" text-anchor="middle">38</text>
<line x1="630.00" y1="814.2" x2="630.00" y2="823.7" stroke="#000" stroke-width="1.6"/>
<text x="630.00" y="841.8" font-size="8.5" text-anchor="middle">40</text>
<line x1="655.45" y1="814.2" x2="655.45" y2="823.7" stroke="#000" stroke-width="1.6"/>
<text x="655.45" y="841.8" font-size="8.5" text-anchor="middle">42</text>
<line x1="680.90" y1="814.2" x2="680.90" y2="823.7" stroke="#000" stroke-width="1.6"/>
<text x="680.90" y="841.8" font-size="8.5" text-anchor="middle">44</text>
<text x="355.6" y="865.9" font-size="13.7" textLength="118" lengthAdjust="spacing">10m Wind (knot)</text>
</svg></body></html>
